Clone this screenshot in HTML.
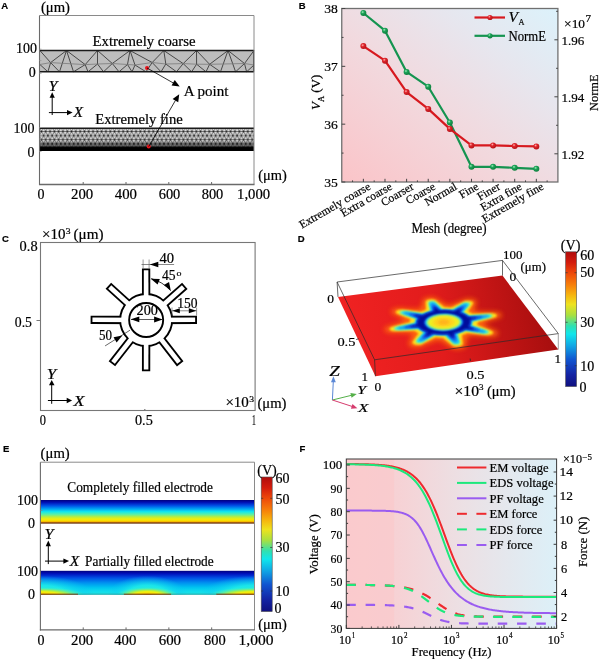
<!DOCTYPE html>
<html><head><meta charset="utf-8"><title>Figure</title>
<style>html,body{margin:0;padding:0;background:#fff;}body{width:599px;height:660px;overflow:hidden;font-family:"Liberation Serif", serif;}svg{display:block;will-change:transform;}text{stroke:#000;stroke-width:0.2px;}</style>
</head><body>
<svg width="599" height="660" viewBox="0 0 599 660" font-family='"Liberation Serif", serif'>
<defs>
<pattern id="finemesh" x="0.6" y="127.4" width="4.3" height="8.2" patternUnits="userSpaceOnUse">
 <rect width="4.3" height="8.2" fill="#dadada"/>
 <path d="M0 0L4.3 0M0 4.1L4.3 4.1M0 8.2L4.3 8.2M0 0L2.15 4.1L4.3 0M0 8.2L2.15 4.1L4.3 8.2" stroke="#3a3a3a" stroke-width="0.55" fill="none"/>
 <circle cx="0" cy="0" r="0.8" fill="#202020"/><circle cx="4.3" cy="0" r="0.8" fill="#202020"/>
 <circle cx="2.15" cy="4.1" r="0.8" fill="#202020"/>
 <circle cx="0" cy="8.2" r="0.8" fill="#202020"/><circle cx="4.3" cy="8.2" r="0.8" fill="#202020"/>
</pattern>
<linearGradient id="finedark" x1="0" y1="0" x2="0" y2="1">
 <stop offset="0" stop-color="#000" stop-opacity="0"/>
 <stop offset="0.57" stop-color="#000" stop-opacity="0.05"/>
 <stop offset="0.62" stop-color="#000" stop-opacity="0.3"/>
 <stop offset="0.78" stop-color="#000" stop-opacity="0.5"/>
 <stop offset="0.84" stop-color="#000" stop-opacity="0.88"/>
 <stop offset="0.87" stop-color="#000" stop-opacity="1"/><stop offset="1" stop-color="#000" stop-opacity="1"/>
</linearGradient>

<linearGradient id="bgB" x1="0" y1="1" x2="1" y2="0">
 <stop offset="0" stop-color="#fbc4c8"/>
 <stop offset="0.45" stop-color="#f1dadf"/>
 <stop offset="0.72" stop-color="#e7e6ee"/>
 <stop offset="1" stop-color="#dcf2fb"/>
</linearGradient>
<radialGradient id="ballR" cx="0.38" cy="0.35" r="0.7">
 <stop offset="0" stop-color="#ffb0b0"/>
 <stop offset="0.35" stop-color="#e0262c"/>
 <stop offset="1" stop-color="#b01016"/>
</radialGradient>
<radialGradient id="ballG" cx="0.38" cy="0.35" r="0.7">
 <stop offset="0" stop-color="#a8f0c0"/>
 <stop offset="0.35" stop-color="#1ea55a"/>
 <stop offset="1" stop-color="#0c7a3a"/>
</radialGradient>

<clipPath id="clipD"><polygon points="338,296.9 502.5,275.6 558.3,349.5 375.4,376.2" fill="#000" /></clipPath>
<filter id="bl1" x="-20%" y="-20%" width="140%" height="140%"><feGaussianBlur stdDeviation="0.9"/></filter>
<filter id="bl15" x="-20%" y="-20%" width="140%" height="140%"><feGaussianBlur stdDeviation="1.3"/></filter>
<filter id="bl2" x="-20%" y="-20%" width="140%" height="140%"><feGaussianBlur stdDeviation="1.6"/></filter>
<filter id="bl3" x="-30%" y="-30%" width="160%" height="160%"><feGaussianBlur stdDeviation="2.6"/></filter>
<linearGradient id="redD" gradientUnits="userSpaceOnUse" x1="345" y1="330" x2="545" y2="290">
 <stop offset="0" stop-color="#f02222"/>
 <stop offset="0.45" stop-color="#e21c1c"/>
 <stop offset="1" stop-color="#a60e0e"/>
</linearGradient>
<linearGradient id="redFront" gradientUnits="userSpaceOnUse" x1="375" y1="360" x2="558" y2="340">
 <stop offset="0" stop-color="#e01e1e"/>
 <stop offset="1" stop-color="#a81212"/>
</linearGradient>
<linearGradient id="cbar" x1="0" y1="0" x2="0" y2="1">
 <stop offset="0" stop-color="#b00c0c"/>
 <stop offset="0.08" stop-color="#d41c0c"/>
 <stop offset="0.16" stop-color="#ee4a0a"/>
 <stop offset="0.25" stop-color="#f7820a"/>
 <stop offset="0.32" stop-color="#f6b40e"/>
 <stop offset="0.39" stop-color="#eee21e"/>
 <stop offset="0.47" stop-color="#a8e040"/>
 <stop offset="0.55" stop-color="#30e0b0"/>
 <stop offset="0.61" stop-color="#10e6ec"/>
 <stop offset="0.7" stop-color="#10a4e4"/>
 <stop offset="0.8" stop-color="#1054d0"/>
 <stop offset="0.91" stop-color="#1424a4"/>
 <stop offset="1" stop-color="#10107e"/>
</linearGradient>

<linearGradient id="bandE1" x1="0" y1="0" x2="0" y2="1">
 <stop offset="0" stop-color="#00007e"/>
 <stop offset="0.1" stop-color="#0010b4"/>
 <stop offset="0.24" stop-color="#0050e6"/>
 <stop offset="0.38" stop-color="#00a4f2"/>
 <stop offset="0.5" stop-color="#10e8ee"/>
 <stop offset="0.62" stop-color="#60f0a0"/>
 <stop offset="0.72" stop-color="#b8ec40"/>
 <stop offset="0.82" stop-color="#f4ee08"/>
 <stop offset="0.9" stop-color="#fad800"/>
 <stop offset="0.95" stop-color="#f09000"/>
 <stop offset="1" stop-color="#8a4a10"/>
</linearGradient>
<linearGradient id="bandE2" x1="0" y1="0" x2="0" y2="1">
 <stop offset="0" stop-color="#00007e"/>
 <stop offset="0.12" stop-color="#0010bc"/>
 <stop offset="0.3" stop-color="#0050e6"/>
 <stop offset="0.5" stop-color="#0090f0"/>
 <stop offset="0.7" stop-color="#00c4f0"/>
 <stop offset="0.85" stop-color="#10dcec"/>
 <stop offset="1" stop-color="#20e2e0"/>
</linearGradient>
<radialGradient id="glowE" cx="0.5" cy="0.5" r="0.5">
 <stop offset="0" stop-color="#30f0d0"/>
 <stop offset="0.5" stop-color="#20eee8" stop-opacity="0.85"/>
 <stop offset="0.8" stop-color="#10d0f0" stop-opacity="0.4"/>
 <stop offset="1" stop-color="#10c0f0" stop-opacity="0"/>
</radialGradient>
<radialGradient id="domeE" cx="0.5" cy="0.5" r="0.5">
 <stop offset="0" stop-color="#f8b800"/>
 <stop offset="0.2" stop-color="#f8e000"/>
 <stop offset="0.42" stop-color="#f0f010"/>
 <stop offset="0.6" stop-color="#b0f040" stop-opacity="0.9"/>
 <stop offset="0.82" stop-color="#60f0a0" stop-opacity="0.5"/>
 <stop offset="1" stop-color="#40f0c0" stop-opacity="0"/>
</radialGradient>
<clipPath id="clipE2"><rect x="40.4" y="570.8" width="214.1" height="23.9"/></clipPath>
<clipPath id="clipF"><rect x="346.3" y="459" width="210.3" height="169.4"/></clipPath>
<linearGradient id="bgF" x1="0" y1="0" x2="1" y2="0">
 <stop offset="0" stop-color="#f9cfd2"/>
 <stop offset="0.25" stop-color="#f6d2d5"/>
 <stop offset="0.55" stop-color="#ece0e4"/>
 <stop offset="1" stop-color="#dcf0f8"/>
</linearGradient>
</defs>
<rect width="599" height="660" fill="#fff"/>
<rect x="39.5" y="50.5" width="214.5" height="21.3" fill="#bdbdbd" />
<path d="M39.9 50.5L50.6 62.6M50.6 62.6L66.5 50.5M50.6 62.6L47.9 71.8M50.6 62.6L59.5 71.8M39.9 64.5L47.9 71.8M66.5 50.5L59.5 71.8M66.5 50.5L73.5 71.8M66.5 50.5L85.2 64.6M85.2 64.6L73.5 71.8M85.2 64.6L88 71.8M85.2 64.6L97.5 50.5M97.5 50.5L97.5 64M97.5 64L88 71.8M97.5 64L103.5 71.8M97.5 50.5L112.3 63.5M112.3 63.5L130 50.5M112.3 63.5L103.5 71.8M112.3 63.5L119 71.8M130 50.5L127.5 64.5M130 50.5L135 65M130 50.5L152.2 62.5M127.5 64.5L119 71.8M127.5 64.5L132 71.8M135 65L132 71.8M135 65L146 71.8M152.2 62.5L146 71.8M152.2 62.5L161 71.8M152.2 62.5L163.8 50.5M163.8 50.5L165.8 64M163.8 50.5L183.2 63.6M165.8 64L161 71.8M165.8 64L176.5 71.8M183.2 63.6L176.5 71.8M183.2 63.6L191.6 71.8M183.2 63.6L196.5 50.5M196.5 50.5L196.6 64.2M196.6 64.2L191.6 71.8M196.6 64.2L206 71.8M196.5 50.5L209.6 64.3M209.6 64.3L206 71.8M209.6 64.3L220.5 71.8M209.6 64.3L228 50.5M228 50.5L220.5 71.8M228 50.5L235.6 71.8M228 50.5L244.5 63.5M244.5 63.5L235.6 71.8M244.5 63.5L246.6 71.8M244.5 63.5L254 50.5M246.6 71.8L254 65" fill="none" stroke="#2a2a2a" stroke-width="0.8" />
<path d="M39.9 64.5L50.6 62.6L85.2 64.6L97.5 64L112.3 63.5L127.5 64.5L135 65L152.2 62.5L165.8 64L183.2 63.6L196.6 64.2L209.6 64.3L244.5 63.5L254 65" fill="none" stroke="#7a7a7a" stroke-width="0.8" />
<line x1="39.5" y1="50.5" x2="254" y2="50.5" stroke="#1a1a1a" stroke-width="1.6" />
<line x1="39.5" y1="71.8" x2="254" y2="71.8" stroke="#1a1a1a" stroke-width="1.6" />
<line x1="253.7" y1="50.5" x2="253.7" y2="71.8" stroke="#1a1a1a" stroke-width="1" />
<rect x="39.5" y="128.2" width="214.5" height="22.4" fill="url(#finemesh)" />
<rect x="39.5" y="128.2" width="214.5" height="22.4" fill="url(#finedark)" />
<line x1="39.5" y1="128.2" x2="254" y2="128.2" stroke="#1a1a1a" stroke-width="1.4" />
<line x1="39.5" y1="150.1" x2="254" y2="150.1" stroke="#000" stroke-width="1.6" />
<line x1="39.5" y1="15.5" x2="254" y2="15.5" stroke="#8a8a8a" stroke-width="1" />
<line x1="254" y1="15.5" x2="254" y2="184.5" stroke="#8a8a8a" stroke-width="1" />
<line x1="39.5" y1="15.5" x2="39.5" y2="185" stroke="#6a6a6a" stroke-width="1.1" />
<line x1="39" y1="184.5" x2="254.5" y2="184.5" stroke="#6a6a6a" stroke-width="1.3" />
<line x1="83.2" y1="184.5" x2="83.2" y2="182" stroke="#6a6a6a" stroke-width="1" />
<line x1="126" y1="184.5" x2="126" y2="182" stroke="#6a6a6a" stroke-width="1" />
<line x1="168.8" y1="184.5" x2="168.8" y2="182" stroke="#6a6a6a" stroke-width="1" />
<line x1="211.6" y1="184.5" x2="211.6" y2="182" stroke="#6a6a6a" stroke-width="1" />
<line x1="39.5" y1="49.2" x2="41.5" y2="49.2" stroke="#9a9a9a" stroke-width="0.8" />
<line x1="39.5" y1="60.5" x2="41.5" y2="60.5" stroke="#9a9a9a" stroke-width="0.8" />
<line x1="39.5" y1="73.3" x2="41.5" y2="73.3" stroke="#9a9a9a" stroke-width="0.8" />
<line x1="39.5" y1="127.5" x2="41.5" y2="127.5" stroke="#9a9a9a" stroke-width="0.8" />
<line x1="39.5" y1="139" x2="41.5" y2="139" stroke="#9a9a9a" stroke-width="0.8" />
<line x1="39.5" y1="151.5" x2="41.5" y2="151.5" stroke="#9a9a9a" stroke-width="0.8" />
<circle cx="147" cy="68" r="2" fill="#e8141c"/>
<circle cx="148.7" cy="146.6" r="2" fill="#e8141c"/>
<line x1="147" y1="68" x2="174" y2="83.4" stroke="#000" stroke-width="0.8" />
<polygon points="179.7,86.4 171.57,85.55 174.76,79.89" fill="#000" />
<line x1="148.7" y1="146.6" x2="175.5" y2="100.3" stroke="#000" stroke-width="0.8" />
<polygon points="179.2,94.2 178.24,102.32 172.62,99.05" fill="#000" />
<line x1="52.2" y1="115" x2="52.2" y2="96" stroke="#000" stroke-width="1" />
<polygon points="52.2,92.2 49.6,97.8 54.8,97.8" fill="#000" />
<line x1="48.9" y1="112.6" x2="68" y2="112.6" stroke="#000" stroke-width="1" />
<polygon points="72.6,112.6 67,110 67,115.2" fill="#000" />
<text x="48.4" y="91.3" font-size="14" textLength="9" lengthAdjust="spacingAndGlyphs" font-style="italic">Y</text>
<text x="73.5" y="116.5" font-size="14" textLength="9.5" lengthAdjust="spacingAndGlyphs" font-style="italic">X</text>
<text x="40.9" y="11.5" font-size="14" textLength="29.1" lengthAdjust="spacingAndGlyphs">(μm)</text>
<text x="37" y="53.3" font-size="14" text-anchor="end" textLength="21" lengthAdjust="spacingAndGlyphs">100</text>
<text x="35.7" y="76.8" font-size="14" text-anchor="end" textLength="7" lengthAdjust="spacingAndGlyphs">0</text>
<text x="34.5" y="132.8" font-size="14" text-anchor="end" textLength="21" lengthAdjust="spacingAndGlyphs">100</text>
<text x="34.5" y="156.6" font-size="14" text-anchor="end" textLength="7" lengthAdjust="spacingAndGlyphs">0</text>
<text x="92.6" y="46" font-size="14" textLength="103" lengthAdjust="spacingAndGlyphs">Extremely coarse</text>
<text x="183.7" y="95.9" font-size="14" textLength="44.8" lengthAdjust="spacingAndGlyphs">A point</text>
<text x="95.2" y="124.3" font-size="14" textLength="87.6" lengthAdjust="spacingAndGlyphs">Extremely fine</text>
<text x="258.2" y="180.4" font-size="14" textLength="28.6" lengthAdjust="spacingAndGlyphs">(μm)</text>
<text x="37.6" y="199.3" font-size="14" textLength="7" lengthAdjust="spacingAndGlyphs">0</text>
<text x="71" y="199.3" font-size="14" textLength="22.2" lengthAdjust="spacingAndGlyphs">200</text>
<text x="114.8" y="199.3" font-size="14" textLength="22.2" lengthAdjust="spacingAndGlyphs">400</text>
<text x="158.7" y="199.3" font-size="14" textLength="21.6" lengthAdjust="spacingAndGlyphs">600</text>
<text x="201.7" y="199.3" font-size="14" textLength="21.6" lengthAdjust="spacingAndGlyphs">800</text>
<text x="237.1" y="199.3" font-size="14" textLength="33" lengthAdjust="spacingAndGlyphs">1,000</text>
<rect x="341.75" y="8.5" width="216.15" height="173.5" fill="url(#bgB)" />
<polyline points="363.37,13 384.99,30.7 406.61,71.9 428.23,86.7 449.85,122.5 471.47,166.8 493.09,166.8 514.71,167.8 536.33,168.8" fill="none" stroke="#159450" stroke-width="2.2" stroke-linejoin="round"/>
<polyline points="363.37,46.1 384.99,60.7 406.61,92.1 428.23,108.9 449.85,128.9 471.47,145.4 493.09,145.4 514.71,146 536.33,146.4" fill="none" stroke="#d7191f" stroke-width="2.2" stroke-linejoin="round"/>
<circle cx="363.37" cy="46.1" r="3" fill="url(#ballR)"/>
<circle cx="384.99" cy="60.7" r="3" fill="url(#ballR)"/>
<circle cx="406.61" cy="92.1" r="3" fill="url(#ballR)"/>
<circle cx="428.23" cy="108.9" r="3" fill="url(#ballR)"/>
<circle cx="449.85" cy="128.9" r="3" fill="url(#ballR)"/>
<circle cx="471.47" cy="145.4" r="3" fill="url(#ballR)"/>
<circle cx="493.09" cy="145.4" r="3" fill="url(#ballR)"/>
<circle cx="514.71" cy="146" r="3" fill="url(#ballR)"/>
<circle cx="536.33" cy="146.4" r="3" fill="url(#ballR)"/>
<circle cx="363.37" cy="13" r="3" fill="url(#ballG)"/>
<circle cx="384.99" cy="30.7" r="3" fill="url(#ballG)"/>
<circle cx="406.61" cy="71.9" r="3" fill="url(#ballG)"/>
<circle cx="428.23" cy="86.7" r="3" fill="url(#ballG)"/>
<circle cx="449.85" cy="122.5" r="3" fill="url(#ballG)"/>
<circle cx="471.47" cy="166.8" r="3" fill="url(#ballG)"/>
<circle cx="493.09" cy="166.8" r="3" fill="url(#ballG)"/>
<circle cx="514.71" cy="167.8" r="3" fill="url(#ballG)"/>
<circle cx="536.33" cy="168.8" r="3" fill="url(#ballG)"/>
<line x1="474.5" y1="17.5" x2="505" y2="17.5" stroke="#d7191f" stroke-width="2.2" />
<circle cx="490" cy="17.5" r="2.6" fill="url(#ballR)"/>
<line x1="474.5" y1="35.8" x2="505" y2="35.8" stroke="#159450" stroke-width="2.2" />
<circle cx="490" cy="35.8" r="2.6" fill="url(#ballG)"/>
<text x="508.5" y="22" font-size="14" textLength="9.5" lengthAdjust="spacingAndGlyphs" font-style="italic">V</text>
<text x="518.5" y="25" font-size="9" textLength="6" lengthAdjust="spacingAndGlyphs">A</text>
<text x="508.5" y="40.5" font-size="14" textLength="37.5" lengthAdjust="spacingAndGlyphs">NormE</text>
<rect x="341.75" y="8.5" width="216.15" height="173.5" fill="none" stroke="#707070" stroke-width="1.3" />
<line x1="341.75" y1="182" x2="345.25" y2="182" stroke="#444" stroke-width="1" />
<line x1="341.75" y1="124.17" x2="345.25" y2="124.17" stroke="#444" stroke-width="1" />
<line x1="341.75" y1="66.33" x2="345.25" y2="66.33" stroke="#444" stroke-width="1" />
<line x1="341.75" y1="8.5" x2="345.25" y2="8.5" stroke="#444" stroke-width="1" />
<line x1="341.75" y1="153.08" x2="343.55" y2="153.08" stroke="#444" stroke-width="1" />
<line x1="341.75" y1="95.25" x2="343.55" y2="95.25" stroke="#444" stroke-width="1" />
<line x1="341.75" y1="37.42" x2="343.55" y2="37.42" stroke="#444" stroke-width="1" />
<text x="337.9" y="186.9" font-size="13.2" text-anchor="end" textLength="13.6" lengthAdjust="spacingAndGlyphs">35</text>
<text x="337.9" y="129.07" font-size="13.2" text-anchor="end" textLength="13.6" lengthAdjust="spacingAndGlyphs">36</text>
<text x="337.9" y="71.23" font-size="13.2" text-anchor="end" textLength="13.6" lengthAdjust="spacingAndGlyphs">37</text>
<text x="337.9" y="13.4" font-size="13.2" text-anchor="end" textLength="13.6" lengthAdjust="spacingAndGlyphs">38</text>
<line x1="554.4" y1="153.8" x2="557.9" y2="153.8" stroke="#444" stroke-width="1" />
<text x="561.4" y="158.8" font-size="13" textLength="22.8" lengthAdjust="spacingAndGlyphs">1.92</text>
<line x1="554.4" y1="96.8" x2="557.9" y2="96.8" stroke="#444" stroke-width="1" />
<text x="561.4" y="101.8" font-size="13" textLength="22.8" lengthAdjust="spacingAndGlyphs">1.94</text>
<line x1="554.4" y1="39.8" x2="557.9" y2="39.8" stroke="#444" stroke-width="1" />
<text x="561.4" y="44.8" font-size="13" textLength="22.8" lengthAdjust="spacingAndGlyphs">1.96</text>
<line x1="556.1" y1="125.3" x2="557.9" y2="125.3" stroke="#444" stroke-width="1" />
<line x1="556.1" y1="68.3" x2="557.9" y2="68.3" stroke="#444" stroke-width="1" />
<line x1="556.1" y1="11.3" x2="557.9" y2="11.3" stroke="#444" stroke-width="1" />
<text x="564.1" y="28.2" font-size="12.6" textLength="20.9" lengthAdjust="spacingAndGlyphs">×10</text>
<text x="585.6" y="21.5" font-size="9.5" textLength="5.5" lengthAdjust="spacingAndGlyphs">7</text>
<line x1="363.37" y1="182" x2="363.37" y2="178.8" stroke="#444" stroke-width="1" />
<line x1="384.99" y1="182" x2="384.99" y2="178.8" stroke="#444" stroke-width="1" />
<line x1="406.61" y1="182" x2="406.61" y2="178.8" stroke="#444" stroke-width="1" />
<line x1="428.23" y1="182" x2="428.23" y2="178.8" stroke="#444" stroke-width="1" />
<line x1="449.85" y1="182" x2="449.85" y2="178.8" stroke="#444" stroke-width="1" />
<line x1="471.47" y1="182" x2="471.47" y2="178.8" stroke="#444" stroke-width="1" />
<line x1="493.09" y1="182" x2="493.09" y2="178.8" stroke="#444" stroke-width="1" />
<line x1="514.71" y1="182" x2="514.71" y2="178.8" stroke="#444" stroke-width="1" />
<line x1="536.33" y1="182" x2="536.33" y2="178.8" stroke="#444" stroke-width="1" />
<line x1="352.56" y1="182" x2="352.56" y2="180.4" stroke="#444" stroke-width="1" />
<line x1="374.18" y1="182" x2="374.18" y2="180.4" stroke="#444" stroke-width="1" />
<line x1="395.8" y1="182" x2="395.8" y2="180.4" stroke="#444" stroke-width="1" />
<line x1="417.42" y1="182" x2="417.42" y2="180.4" stroke="#444" stroke-width="1" />
<line x1="439.04" y1="182" x2="439.04" y2="180.4" stroke="#444" stroke-width="1" />
<line x1="460.66" y1="182" x2="460.66" y2="180.4" stroke="#444" stroke-width="1" />
<line x1="482.28" y1="182" x2="482.28" y2="180.4" stroke="#444" stroke-width="1" />
<line x1="503.9" y1="182" x2="503.9" y2="180.4" stroke="#444" stroke-width="1" />
<line x1="525.52" y1="182" x2="525.52" y2="180.4" stroke="#444" stroke-width="1" />
<line x1="547.14" y1="182" x2="547.14" y2="180.4" stroke="#444" stroke-width="1" />
<text x="371.37" y="188.6" font-size="11.5" text-anchor="end" transform="rotate(-30 371.37 188.6)">Extremely coarse</text>
<text x="392.99" y="188.6" font-size="11.5" text-anchor="end" transform="rotate(-30 392.99 188.6)">Extra coarse</text>
<text x="414.61" y="188.6" font-size="11.5" text-anchor="end" transform="rotate(-30 414.61 188.6)">Coarser</text>
<text x="436.23" y="188.6" font-size="11.5" text-anchor="end" transform="rotate(-30 436.23 188.6)">Coarse</text>
<text x="457.85" y="188.6" font-size="11.5" text-anchor="end" transform="rotate(-30 457.85 188.6)">Normal</text>
<text x="479.47" y="188.6" font-size="11.5" text-anchor="end" transform="rotate(-30 479.47 188.6)">Fine</text>
<text x="501.09" y="188.6" font-size="11.5" text-anchor="end" transform="rotate(-30 501.09 188.6)">Finer</text>
<text x="522.71" y="188.6" font-size="11.5" text-anchor="end" transform="rotate(-30 522.71 188.6)">Extra fine</text>
<text x="544.33" y="188.6" font-size="11.5" text-anchor="end" transform="rotate(-30 544.33 188.6)">Extremely fine</text>
<text x="411.5" y="233.3" font-size="14" textLength="75" lengthAdjust="spacingAndGlyphs">Mesh (degree)</text>
<text transform="translate(320 110) rotate(-90)" font-size="13"><tspan font-style="italic">V</tspan><tspan font-size="8.5" dy="4">A</tspan><tspan dy="-4"> (V)</tspan></text>
<text transform="translate(597.5 110.9) rotate(-90)" font-size="12.4" textLength="36.4" lengthAdjust="spacingAndGlyphs">NormE</text>
<rect x="40.5" y="242.5" width="214.6" height="168" fill="none" stroke="#777" stroke-width="1.1" />
<line x1="36.5" y1="320.5" x2="40.5" y2="320.5" stroke="#777" stroke-width="1" />
<line x1="144.8" y1="410.5" x2="144.8" y2="409" stroke="#777" stroke-width="1.2" />
<g fill="#000" stroke="#000" stroke-width="3.7" stroke-linejoin="miter"><circle cx="146.15" cy="320" r="25.1"/><rect x="0" y="-2.3" width="49" height="4.6" transform="translate(146.15 320) rotate(-0.23)"/><rect x="0" y="-2.3" width="49.76" height="4.6" transform="translate(146.15 320) rotate(-41.43)"/><rect x="0" y="-2.3" width="49.65" height="4.6" transform="translate(146.15 320) rotate(-90.06)"/><rect x="0" y="-2.3" width="49.16" height="4.6" transform="translate(146.15 320) rotate(-137.82)"/><rect x="0" y="-2.3" width="53.7" height="4.6" transform="translate(146.15 320) rotate(-179.79)"/><rect x="0" y="-2.3" width="53.75" height="4.6" transform="translate(146.15 320) rotate(128.02)"/><rect x="0" y="-2.3" width="49.45" height="4.6" transform="translate(146.15 320) rotate(90.06)"/><rect x="0" y="-2.3" width="53.71" height="4.6" transform="translate(146.15 320) rotate(52.2)"/></g>
<g fill="#fff" stroke="none"><circle cx="146.15" cy="320" r="25.1"/><rect x="0" y="-2.3" width="49" height="4.6" transform="translate(146.15 320) rotate(-0.23)"/><rect x="0" y="-2.3" width="49.76" height="4.6" transform="translate(146.15 320) rotate(-41.43)"/><rect x="0" y="-2.3" width="49.65" height="4.6" transform="translate(146.15 320) rotate(-90.06)"/><rect x="0" y="-2.3" width="49.16" height="4.6" transform="translate(146.15 320) rotate(-137.82)"/><rect x="0" y="-2.3" width="53.7" height="4.6" transform="translate(146.15 320) rotate(-179.79)"/><rect x="0" y="-2.3" width="53.75" height="4.6" transform="translate(146.15 320) rotate(128.02)"/><rect x="0" y="-2.3" width="49.45" height="4.6" transform="translate(146.15 320) rotate(90.06)"/><rect x="0" y="-2.3" width="53.71" height="4.6" transform="translate(146.15 320) rotate(52.2)"/></g>
<circle cx="146.15" cy="320" r="17" fill="#fff" stroke="#000" stroke-width="1.9"/>
<line x1="143.1" y1="259.5" x2="143.1" y2="268.5" stroke="#555" stroke-width="0.6" />
<line x1="149.1" y1="259.5" x2="149.1" y2="268.5" stroke="#555" stroke-width="0.6" />
<line x1="141.5" y1="264.5" x2="174.1" y2="264.5" stroke="#555" stroke-width="0.7" />
<polygon points="149.8,264.5 158.3,261.75 158.3,267.25" fill="#000" />
<text x="159.5" y="262.5" font-size="14" textLength="14.6" lengthAdjust="spacingAndGlyphs">40</text>
<path d="M151.2 278.6 A 40 40 0 0 1 170.6 290.6" fill="none" stroke="#000" stroke-width="0.8" />
<polygon points="150.8,278.7 159.81,278.98 157.63,284.58" fill="#000" />
<polygon points="170.8,290.8 163.9,285 169.07,281.95" fill="#000" />
<text x="162" y="280" font-size="14" textLength="13.6" lengthAdjust="spacingAndGlyphs">45</text>
<text x="176.4" y="276.3" font-size="8" textLength="5" lengthAdjust="spacingAndGlyphs">o</text>
<line x1="172" y1="307.5" x2="172" y2="315.5" stroke="#555" stroke-width="0.6" />
<line x1="196.6" y1="307.5" x2="196.6" y2="315.5" stroke="#555" stroke-width="0.6" />
<line x1="172" y1="310.8" x2="196.6" y2="310.8" stroke="#555" stroke-width="0.7" />
<polygon points="172.3,310.8 179.8,308.3 179.8,313.3" fill="#000" />
<polygon points="196.3,310.8 188.8,313.3 188.8,308.3" fill="#000" />
<text x="177.2" y="307.8" font-size="14" textLength="20.3" lengthAdjust="spacingAndGlyphs">150</text>
<line x1="131" y1="319.5" x2="162.5" y2="319.5" stroke="#333" stroke-width="0.8" />
<polygon points="130.8,319.3 139.3,316.4 139.3,322.2" fill="#000" />
<polygon points="162.6,319.5 154.1,322.4 154.1,316.6" fill="#000" />
<text x="136.5" y="315.4" font-size="14" textLength="21.4" lengthAdjust="spacingAndGlyphs">200</text>
<line x1="105.1" y1="345.9" x2="130" y2="330.2" stroke="#000" stroke-width="0.6" />
<polygon points="122.4,335.6 116.63,342.53 113.56,337.37" fill="#000" />
<text x="99.1" y="339.9" font-size="14" textLength="13" lengthAdjust="spacingAndGlyphs">50</text>
<line x1="51.7" y1="403.8" x2="51.7" y2="384" stroke="#000" stroke-width="1" />
<polygon points="51.7,379.9 49,385.2 54.5,385.2" fill="#000" />
<line x1="47.9" y1="400.5" x2="67" y2="400.5" stroke="#000" stroke-width="1" />
<polygon points="72.1,400.5 66.7,397.8 66.7,403.2" fill="#000" />
<text x="46.8" y="378.8" font-size="14" textLength="9.5" lengthAdjust="spacingAndGlyphs" font-style="italic">Y</text>
<text x="73.6" y="405.5" font-size="14" textLength="11" lengthAdjust="spacingAndGlyphs" font-style="italic">X</text>
<text x="42" y="238.6" font-size="14" textLength="23.5" lengthAdjust="spacingAndGlyphs">×10</text>
<text x="65.8" y="233.5" font-size="9" textLength="4.8" lengthAdjust="spacingAndGlyphs">3</text>
<text x="73.5" y="238.6" font-size="14" textLength="30" lengthAdjust="spacingAndGlyphs">(μm)</text>
<text x="37.6" y="251" font-size="14" text-anchor="end" textLength="18" lengthAdjust="spacingAndGlyphs">0.8</text>
<text x="32" y="326.8" font-size="14" text-anchor="end" textLength="17.2" lengthAdjust="spacingAndGlyphs">0.5</text>
<text x="39.8" y="424.5" font-size="14" textLength="6.2" lengthAdjust="spacingAndGlyphs">0</text>
<text x="135" y="424.5" font-size="14" textLength="17.8" lengthAdjust="spacingAndGlyphs">0.5</text>
<text x="252.1" y="425" font-size="14" textLength="3.8" lengthAdjust="spacingAndGlyphs">1</text>
<text x="225.4" y="407.4" font-size="14" textLength="23.5" lengthAdjust="spacingAndGlyphs">×10</text>
<text x="249.2" y="402.3" font-size="9" textLength="4.8" lengthAdjust="spacingAndGlyphs">3</text>
<text x="257.5" y="408" font-size="14" textLength="29" lengthAdjust="spacingAndGlyphs">(μm)</text>
<polygon points="338,296.9 502.5,275.6 558.3,349.5 375.4,376.2" fill="url(#redD)" />
<g clip-path="url(#clipD)">
<path d="M474.05 309.92L474.43 310.1L474.81 310.29L475.18 310.48L475.55 310.68L475.91 310.87L476.26 311.07L476.61 311.27L476.95 311.47L491.31 311.74L495.64 311.66L499.49 312.55L501.81 314.16L501.99 316.09L499.96 317.8L496.25 318.84L484.55 322.74L484.52 323.01L484.48 323.27L484.43 323.53L484.37 323.79L484.31 324.05L484.24 324.32L484.16 324.58L484.07 324.84L493.95 329.71L497.22 331.08L498.54 333.01L497.55 334.99L494.48 336.5L490.17 337.11L485.78 336.66L471.04 335.71L470.59 335.9L470.13 336.08L469.67 336.26L469.21 336.44L468.73 336.61L468.26 336.78L467.77 336.95L467.29 337.11L466.31 343.98L466.39 346.08L464.17 347.95L460.23 349.09L455.64 349.17L451.65 348.18L449.33 346.39L440.7 340.86L440.1 340.84L439.5 340.83L438.9 340.81L438.3 340.79L437.7 340.76L437.1 340.73L436.51 340.69L435.91 340.65L424.34 345.34L421.07 346.89L416.63 347.51L412.23 347.05L409.06 345.62L407.98 343.61L409.25 341.58L412.21 334.82L411.83 334.62L411.46 334.42L411.1 334.21L410.74 334L410.39 333.79L410.04 333.58L409.71 333.37L409.38 333.15L394.6 332.87L390.11 332.95L386.31 332.01L384.22 330.3L384.39 328.3L386.75 326.53L390.67 325.47L402.96 321.53L403.02 321.27L403.09 321.01L403.17 320.75L403.26 320.49L403.35 320.23L403.46 319.98L403.57 319.72L403.69 319.46L394.62 314.74L391.63 313.44L390.65 311.62L391.91 309.77L395.06 308.38L399.27 307.82L403.41 308.24L417.45 309.1L417.9 308.93L418.35 308.76L418.8 308.6L419.26 308.44L419.72 308.28L420.19 308.12L420.67 307.97L421.15 307.82L422.5 301.65L422.55 299.81L424.72 298.19L428.42 297.22L432.67 297.14L436.33 297.99L438.45 299.53L446.54 304.42L447.11 304.43L447.68 304.44L448.25 304.46L448.82 304.48L449.39 304.5L449.95 304.53L450.52 304.56L451.08 304.6L461.8 300.45L464.77 299.1L468.86 298.55L472.99 298.96L476.07 300.2L477.28 301.96L476.27 303.76Z" fill="#ff6a10" filter="url(#bl3)" opacity="0.9"/>
<path d="M467.99 311.43L468.59 311.7L469.18 311.98L469.76 312.27L470.31 312.56L470.85 312.86L471.38 313.16L471.88 313.48L472.36 313.79L489.57 313.23L492.5 313.18L495.09 313.78L496.65 314.87L496.76 316.17L495.38 317.32L492.88 318.02L477.77 321.93L477.76 322.33L477.72 322.72L477.66 323.12L477.58 323.52L477.47 323.91L477.34 324.31L477.19 324.7L477.02 325.1L490.22 330.26L492.42 331.18L493.3 332.48L492.62 333.82L490.56 334.83L487.66 335.24L484.71 334.93L467.59 332.9L466.94 333.19L466.27 333.47L465.58 333.74L464.88 334.01L464.16 334.27L463.43 334.52L462.68 334.76L461.92 335L462.79 343.15L462.83 344.56L461.34 345.82L458.69 346.58L455.61 346.63L452.93 345.97L451.37 344.77L442.85 337.67L441.94 337.67L441.03 337.66L440.13 337.64L439.22 337.61L438.32 337.56L437.42 337.51L436.53 337.44L435.64 337.37L423.29 343.59L421.09 344.63L418.11 345.05L415.15 344.73L413.02 343.78L412.28 342.43L413.13 341.06L418.62 333.2L418.01 332.91L417.43 332.61L416.86 332.31L416.31 332L415.78 331.68L415.27 331.36L414.79 331.03L414.32 330.69L396.61 331.28L393.6 331.34L391.04 330.7L389.62 329.56L389.72 328.21L391.31 327.02L393.95 326.3L409.63 322.35L409.68 321.95L409.76 321.56L409.86 321.16L409.98 320.77L410.13 320.37L410.3 319.98L410.49 319.59L410.7 319.21L398.33 314.21L396.31 313.34L395.64 312.11L396.48 310.86L398.6 309.92L401.44 309.55L404.24 309.83L420.57 311.72L421.22 311.45L421.89 311.19L422.57 310.93L423.26 310.68L423.97 310.44L424.69 310.21L425.42 309.98L426.17 309.76L425.76 302.38L425.79 301.14L427.25 300.04L429.75 299.38L432.62 299.33L435.09 299.9L436.52 300.95L444.51 307.3L445.38 307.3L446.25 307.31L447.12 307.33L447.99 307.36L448.85 307.4L449.71 307.45L450.56 307.5L451.41 307.57L462.88 301.98L464.89 301.07L467.65 300.7L470.44 300.97L472.52 301.81L473.33 303L472.64 304.22Z" fill="#ffe41a" filter="url(#bl15)"/>
<path d="M463.04 312.51L463.91 312.86L464.74 313.23L465.54 313.61L466.3 314L467.02 314.41L467.71 314.84L468.35 315.28L468.95 315.72L487.59 314.4L489.51 314.37L491.21 314.76L492.24 315.48L492.3 316.33L491.39 317.09L489.75 317.54L472.52 321.16L472.57 321.69L472.56 322.23L472.51 322.77L472.4 323.31L472.24 323.84L472.03 324.38L471.78 324.91L471.47 325.44L486.88 330.49L488.32 331.09L488.89 331.95L488.44 332.82L487.08 333.48L485.18 333.75L483.25 333.55L465.16 330.62L464.33 331.03L463.45 331.43L462.54 331.81L461.6 332.17L460.62 332.52L459.61 332.84L458.57 333.15L457.51 333.44L460.08 342.21L460.1 343.14L459.12 343.96L457.39 344.45L455.37 344.49L453.62 344.06L452.6 343.27L444.83 335.22L443.6 335.25L442.37 335.25L441.14 335.24L439.92 335.2L438.7 335.14L437.49 335.05L436.3 334.94L435.12 334.81L422.95 342.03L421.52 342.7L419.57 342.98L417.63 342.77L416.23 342.15L415.74 341.27L416.3 340.37L423.79 332.05L422.92 331.68L422.09 331.29L421.3 330.89L420.54 330.47L419.83 330.04L419.17 329.6L418.54 329.14L417.97 328.68L398.8 330.06L396.83 330.09L395.15 329.68L394.22 328.93L394.28 328.04L395.31 327.26L397.04 326.79L414.81 323.12L414.81 322.58L414.86 322.05L414.97 321.51L415.12 320.98L415.32 320.44L415.57 319.92L415.87 319.39L416.22 318.87L401.62 314L400.29 313.42L399.84 312.62L400.39 311.8L401.78 311.18L403.65 310.93L405.49 311.11L422.78 313.87L423.62 313.48L424.5 313.1L425.4 312.75L426.34 312.4L427.3 312.08L428.29 311.77L429.31 311.48L430.35 311.21L428.27 303.21L428.28 302.39L429.24 301.67L430.88 301.23L432.77 301.2L434.4 301.58L435.34 302.27L442.62 309.56L443.8 309.53L444.99 309.52L446.17 309.53L447.34 309.57L448.52 309.63L449.68 309.71L450.83 309.81L451.97 309.93L463.29 303.37L464.6 302.77L466.42 302.52L468.26 302.7L469.62 303.26L470.15 304.04L469.69 304.84Z" fill="#22eef0" filter="url(#bl1)"/>
<path d="M461.51 312.46L462.62 312.87L463.67 313.31L464.67 313.77L465.61 314.25L466.49 314.76L467.31 315.29L468.07 315.84L468.76 316.4L485.57 315.25L486.85 315.22L487.99 315.49L488.67 315.97L488.71 316.54L488.1 317.04L487 317.35L471.53 320.63L471.64 321.29L471.68 321.95L471.63 322.61L471.51 323.27L471.3 323.93L471.02 324.58L470.66 325.24L470.23 325.88L484.03 330.46L484.99 330.87L485.37 331.43L485.07 332.01L484.16 332.45L482.9 332.63L481.61 332.5L465.32 329.91L464.34 330.43L463.29 330.93L462.19 331.41L461.03 331.85L459.83 332.28L458.57 332.67L457.27 333.03L455.93 333.37L458.13 341.26L458.15 341.87L457.49 342.42L456.34 342.74L455 342.77L453.83 342.48L453.15 341.96L446.08 334.74L444.57 334.81L443.05 334.84L441.54 334.83L440.04 334.79L438.54 334.71L437.07 334.59L435.61 334.44L434.17 334.25L423.16 340.7L422.2 341.15L420.91 341.33L419.62 341.2L418.69 340.78L418.36 340.2L418.73 339.61L425.36 332.1L424.25 331.67L423.2 331.21L422.2 330.72L421.27 330.21L420.41 329.68L419.61 329.13L418.88 328.56L418.22 327.97L400.98 329.17L399.66 329.19L398.55 328.92L397.92 328.42L397.96 327.83L398.65 327.31L399.8 327L415.76 323.65L415.7 322.99L415.73 322.33L415.83 321.67L416.01 321.01L416.26 320.36L416.6 319.71L417 319.07L417.49 318.44L404.38 314.02L403.5 313.64L403.19 313.1L403.56 312.55L404.48 312.14L405.73 311.97L406.96 312.1L422.59 314.55L423.58 314.05L424.62 313.58L425.72 313.13L426.87 312.7L428.06 312.3L429.29 311.93L430.57 311.59L431.87 311.28L430.06 304.06L430.07 303.52L430.71 303.03L431.81 302.74L433.07 302.72L434.16 302.97L434.79 303.43L441.42 309.99L442.87 309.93L444.33 309.91L445.78 309.91L447.23 309.95L448.67 310.03L450.1 310.14L451.51 310.28L452.9 310.45L463.16 304.55L464.04 304.15L465.26 303.98L466.49 304.1L467.4 304.48L467.75 305L467.44 305.54Z" fill="#1298f0" filter="url(#bl1)"/>
<path d="M460.09 312.48L461.41 312.93L462.65 313.42L463.82 313.95L464.91 314.5L465.93 315.09L466.85 315.71L467.69 316.35L468.43 317.02L480.2 316.39L481.03 316.38L481.76 316.55L482.2 316.86L482.22 317.22L481.82 317.55L481.12 317.74L470.51 320.19L470.69 320.95L470.78 321.71L470.75 322.47L470.61 323.23L470.37 323.99L470.02 324.75L469.56 325.5L468.99 326.23L478.34 329.57L478.95 329.83L479.19 330.19L478.99 330.56L478.41 330.84L477.6 330.96L476.77 330.87L465.31 329.25L464.23 329.87L463.05 330.46L461.8 331.02L460.47 331.54L459.07 332.02L457.61 332.47L456.09 332.87L454.51 333.23L455.61 338.73L455.62 339.12L455.2 339.47L454.46 339.68L453.6 339.69L452.85 339.51L452.42 339.18L447.12 334.26L445.38 334.36L443.64 334.42L441.9 334.42L440.16 334.37L438.44 334.28L436.74 334.13L435.06 333.93L433.43 333.69L425.46 338.05L424.85 338.34L424.02 338.45L423.2 338.37L422.6 338.1L422.39 337.73L422.62 337.35L426.83 332.08L425.5 331.6L424.25 331.09L423.08 330.53L422 329.95L421.01 329.33L420.11 328.69L419.3 328.02L418.6 327.33L406.58 327.98L405.74 328L405.02 327.82L404.61 327.5L404.63 327.12L405.07 326.79L405.81 326.59L416.75 324.09L416.63 323.33L416.61 322.57L416.7 321.81L416.89 321.05L417.2 320.29L417.6 319.55L418.12 318.81L418.73 318.1L409.84 314.87L409.27 314.63L409.08 314.28L409.31 313.93L409.9 313.66L410.7 313.55L411.5 313.63L422.55 315.17L423.65 314.58L424.83 314.02L426.08 313.49L427.4 313L428.78 312.54L430.22 312.12L431.71 311.75L433.24 311.41L432.36 306.34L432.37 305.98L432.78 305.67L433.49 305.48L434.3 305.47L435.01 305.63L435.41 305.93L440.4 310.44L442.08 310.35L443.76 310.3L445.45 310.29L447.12 310.34L448.78 310.43L450.43 310.56L452.05 310.74L453.63 310.97L461.11 306.95L461.68 306.69L462.47 306.58L463.26 306.66L463.84 306.9L464.07 307.24L463.87 307.59Z" fill="#0a3ee0" filter="url(#bl1)"/>
<path d="M458.88 312.49L460.39 312.97L461.8 313.51L463.13 314.08L464.36 314.7L465.48 315.36L466.49 316.06L467.39 316.79L468.16 317.55L475.77 317.29L476.28 317.28L476.72 317.38L476.99 317.57L477 317.8L476.76 317.99L476.32 318.11L469.64 319.82L469.91 320.65L470.05 321.5L470.04 322.35L469.9 323.2L469.62 324.05L469.2 324.9L468.64 325.72L467.95 326.54L473.74 328.8L474.11 328.96L474.25 329.18L474.13 329.4L473.78 329.57L473.28 329.64L472.78 329.59L465.32 328.69L464.16 329.4L462.88 330.07L461.5 330.7L460.02 331.29L458.45 331.82L456.8 332.31L455.08 332.74L453.3 333.11L453.66 336.66L453.67 336.9L453.41 337.11L452.96 337.23L452.44 337.24L451.98 337.13L451.72 336.93L448.02 333.85L446.09 334L444.14 334.08L442.19 334.09L440.25 334.04L438.33 333.93L436.44 333.76L434.59 333.52L432.79 333.22L427.43 335.92L427.06 336.09L426.55 336.16L426.05 336.11L425.68 335.95L425.55 335.72L425.69 335.49L428.07 332.07L426.55 331.56L425.12 331L423.8 330.39L422.58 329.74L421.48 329.05L420.5 328.33L419.64 327.57L418.91 326.79L411.17 327.06L410.66 327.07L410.22 326.96L409.97 326.77L409.98 326.54L410.25 326.33L410.7 326.21L417.59 324.48L417.39 323.63L417.32 322.78L417.39 321.93L417.6 321.08L417.95 320.23L418.43 319.4L419.04 318.59L419.78 317.8L414.27 315.61L413.92 315.46L413.8 315.25L413.94 315.03L414.3 314.87L414.79 314.8L415.28 314.85L422.51 315.71L423.69 315.03L424.98 314.39L426.36 313.79L427.83 313.24L429.37 312.73L430.99 312.27L432.68 311.87L434.42 311.51L434.16 308.23L434.16 308.01L434.42 307.82L434.85 307.7L435.35 307.69L435.78 307.79L436.03 307.98L439.53 310.82L441.4 310.69L443.28 310.62L445.16 310.6L447.03 310.64L448.89 310.75L450.72 310.91L452.52 311.13L454.27 311.41L459.33 308.9L459.68 308.74L460.16 308.68L460.65 308.73L461.01 308.87L461.14 309.08L461.02 309.3Z" fill="#000c9c" filter="url(#bl1)"/>
<path d="M462.51 319.56L462.94 320.38L463.19 321.22L463.25 322.07L463.12 322.93L462.8 323.78L462.3 324.61L461.62 325.43L460.76 326.21L459.74 326.96L458.55 327.66L457.22 328.31L455.76 328.9L454.18 329.42L452.49 329.88L450.71 330.26L448.87 330.56L446.97 330.78L445.04 330.91L443.09 330.96L441.16 330.93L439.24 330.8L437.38 330.6L435.57 330.31L433.85 329.94L432.22 329.49L430.71 328.98L429.33 328.4L428.09 327.76L427 327.07L426.08 326.33L425.33 325.55L424.76 324.74L424.37 323.91L424.17 323.06L424.16 322.2L424.34 321.35L424.7 320.51L425.25 319.68L425.97 318.88L426.86 318.12L427.9 317.39L429.1 316.71L430.43 316.08L431.89 315.52L433.46 315.01L435.12 314.58L436.86 314.21L438.67 313.93L440.52 313.72L442.4 313.59L444.3 313.54L446.18 313.58L448.05 313.69L449.87 313.89L451.64 314.16L453.33 314.52L454.94 314.94L456.44 315.43L457.82 315.99L459.06 316.61L460.17 317.28L461.11 318L461.9 318.76Z" fill="#0a44e2" filter="url(#bl1)"/>
<path d="M461.3 319.72L461.71 320.49L461.94 321.28L461.99 322.08L461.87 322.88L461.57 323.67L461.1 324.45L460.46 325.21L459.66 325.95L458.7 326.65L457.59 327.3L456.35 327.91L454.98 328.46L453.5 328.95L451.92 329.37L450.26 329.73L448.53 330.01L446.76 330.22L444.95 330.34L443.13 330.39L441.32 330.35L439.53 330.24L437.79 330.05L436.1 329.78L434.49 329.43L432.97 329.02L431.55 328.54L430.26 327.99L429.1 327.4L428.08 326.75L427.22 326.06L426.51 325.33L425.98 324.57L425.61 323.79L425.43 323L425.42 322.2L425.58 321.4L425.92 320.61L426.43 319.84L427.1 319.09L427.93 318.37L428.91 317.69L430.03 317.06L431.28 316.47L432.64 315.94L434.11 315.46L435.66 315.06L437.3 314.72L438.99 314.45L440.72 314.25L442.48 314.13L444.26 314.09L446.03 314.12L447.77 314.23L449.48 314.41L451.14 314.67L452.72 315L454.22 315.4L455.63 315.86L456.92 316.38L458.08 316.96L459.12 317.59L460 318.27L460.73 318.98Z" fill="#22eaf2" filter="url(#bl1)"/>
<path d="M459.41 319.98L459.77 320.67L459.97 321.37L460.02 322.08L459.91 322.8L459.64 323.51L459.22 324.2L458.65 324.88L457.93 325.53L457.07 326.16L456.08 326.74L454.97 327.28L453.75 327.77L452.43 328.21L451.02 328.59L449.54 328.9L448 329.15L446.42 329.34L444.82 329.45L443.2 329.49L441.58 329.46L439.99 329.36L438.43 329.18L436.93 328.94L435.49 328.64L434.14 328.27L432.87 327.84L431.72 327.36L430.68 326.82L429.77 326.25L429 325.63L428.37 324.98L427.9 324.31L427.57 323.61L427.4 322.91L427.39 322.19L427.53 321.48L427.83 320.78L428.29 320.09L428.88 319.42L429.62 318.78L430.5 318.17L431.49 317.6L432.61 317.08L433.82 316.6L435.13 316.18L436.52 315.81L437.98 315.51L439.49 315.27L441.04 315.09L442.61 314.99L444.2 314.95L445.78 314.98L447.34 315.07L448.86 315.24L450.34 315.47L451.76 315.76L453.1 316.12L454.35 316.53L455.5 317L456.54 317.52L457.46 318.08L458.25 318.68L458.9 319.32Z" fill="#eef022" filter="url(#bl1)"/>
<path d="M454.42 320.67L454.66 321.14L454.79 321.62L454.82 322.1L454.74 322.59L454.55 323.07L454.26 323.54L453.87 324L453.38 324.45L452.79 324.87L452.12 325.27L451.36 325.63L450.53 325.97L449.63 326.26L448.67 326.52L447.67 326.73L446.62 326.9L445.55 327.02L444.46 327.1L443.36 327.13L442.26 327.11L441.18 327.04L440.12 326.92L439.1 326.76L438.13 326.55L437.2 326.3L436.34 326.01L435.56 325.69L434.85 325.32L434.23 324.93L433.7 324.51L433.27 324.07L432.94 323.61L432.72 323.14L432.6 322.66L432.59 322.18L432.68 321.69L432.88 321.21L433.19 320.74L433.59 320.28L434.09 319.84L434.69 319.43L435.37 319.04L436.12 318.68L436.95 318.35L437.85 318.07L438.8 317.82L439.79 317.61L440.82 317.44L441.88 317.32L442.96 317.25L444.04 317.22L445.12 317.24L446.19 317.31L447.23 317.42L448.24 317.58L449.21 317.78L450.12 318.02L450.98 318.31L451.76 318.63L452.47 318.98L453.1 319.37L453.63 319.78L454.07 320.21Z" fill="#ffd21e" filter="url(#bl2)"/>
<path d="M449.24 321.38L449.36 321.62L449.43 321.87L449.44 322.12L449.4 322.37L449.3 322.62L449.15 322.86L448.94 323.1L448.69 323.33L448.39 323.55L448.04 323.75L447.65 323.94L447.22 324.11L446.75 324.26L446.26 324.39L445.74 324.5L445.21 324.59L444.65 324.65L444.09 324.69L443.53 324.7L442.96 324.69L442.41 324.66L441.86 324.6L441.34 324.52L440.83 324.41L440.36 324.28L439.92 324.13L439.51 323.96L439.15 323.78L438.82 323.58L438.55 323.36L438.33 323.14L438.16 322.9L438.04 322.66L437.97 322.41L437.97 322.16L438.01 321.91L438.11 321.66L438.27 321.42L438.48 321.18L438.74 320.95L439.04 320.74L439.39 320.54L439.78 320.35L440.21 320.18L440.67 320.03L441.16 319.9L441.68 319.79L442.21 319.71L442.76 319.64L443.32 319.61L443.88 319.59L444.44 319.6L444.99 319.64L445.53 319.7L446.05 319.78L446.55 319.88L447.03 320.01L447.47 320.16L447.87 320.32L448.24 320.51L448.56 320.71L448.84 320.92L449.06 321.14Z" fill="#ffb01a" filter="url(#bl2)"/>
</g>
<polygon points="337.1,282 502.5,260.4 558.3,333.6 374.6,359.8" fill="none" stroke="#2a2a2a" stroke-width="0.7" />
<line x1="337.1" y1="282" x2="338" y2="296.9" stroke="#2a2a2a" stroke-width="0.7" />
<line x1="502.5" y1="260.4" x2="502.5" y2="275.6" stroke="#2a2a2a" stroke-width="0.7" />
<line x1="558.3" y1="333.6" x2="558.3" y2="349.5" stroke="#777" stroke-width="0.7" />
<line x1="374.6" y1="359.8" x2="375.4" y2="376.2" stroke="#2a2a2a" stroke-width="0.7" />
<line x1="358.7" y1="338.7" x2="356.2" y2="339.6" stroke="#2a2a2a" stroke-width="0.8" />
<line x1="470.4" y1="361" x2="470.2" y2="358.6" stroke="#2a2a2a" stroke-width="0.8" />
<line x1="332.4" y1="400" x2="333.3" y2="381.5" stroke="#5b88d6" stroke-width="1" />
<polygon points="333.4,376.2 331,382.2 335.8,382.2" fill="#5b88d6" />
<line x1="332.4" y1="400" x2="351.5" y2="395.3" stroke="#55b04a" stroke-width="1" />
<polygon points="356.8,394 351.57,397.86 350.38,393.01" fill="#55b04a" />
<line x1="332.4" y1="400" x2="352" y2="406.4" stroke="#d63c6e" stroke-width="1" />
<polygon points="357.4,408.2 350.92,408.71 352.48,403.95" fill="#d63c6e" />
<text x="329.3" y="376.1" font-size="14" textLength="10.5" lengthAdjust="spacingAndGlyphs" font-style="italic">Z</text>
<text x="357.2" y="394.3" font-size="13" textLength="8.8" lengthAdjust="spacingAndGlyphs" font-style="italic">Y</text>
<text x="358" y="412.1" font-size="13" textLength="10.5" lengthAdjust="spacingAndGlyphs" font-style="italic">X</text>
<text x="327.3" y="303.4" font-size="13.5">0</text>
<text x="337.4" y="346.3" font-size="13.5" textLength="18" lengthAdjust="spacingAndGlyphs">0.5</text>
<text x="361.6" y="381.2" font-size="13">1</text>
<text x="374.4" y="391.4" font-size="13.5">0</text>
<text x="466.5" y="378.6" font-size="13.5" textLength="18" lengthAdjust="spacingAndGlyphs">0.5</text>
<text x="554.5" y="362.8" font-size="13">1</text>
<text x="454.5" y="396.3" font-size="14" textLength="24.5" lengthAdjust="spacingAndGlyphs">×10</text>
<text x="479" y="390.3" font-size="9" textLength="4.5" lengthAdjust="spacingAndGlyphs">3</text>
<text x="487" y="396.3" font-size="14" textLength="28.6" lengthAdjust="spacingAndGlyphs">(μm)</text>
<text x="503" y="259" font-size="13.5" textLength="19.5" lengthAdjust="spacingAndGlyphs">100</text>
<text x="520.6" y="271" font-size="13" textLength="25.3" lengthAdjust="spacingAndGlyphs">(μm)</text>
<text x="509.5" y="281.2" font-size="13.5">0</text>
<rect x="565.6" y="251.8" width="11" height="134.8" fill="url(#cbar)" stroke="#555" stroke-width="0.6" />
<line x1="565.6" y1="272.7" x2="567.6" y2="272.7" stroke="#333" stroke-width="0.7" />
<line x1="574.6" y1="272.7" x2="576.6" y2="272.7" stroke="#333" stroke-width="0.7" />
<line x1="565.6" y1="322.3" x2="567.6" y2="322.3" stroke="#333" stroke-width="0.7" />
<line x1="574.6" y1="322.3" x2="576.6" y2="322.3" stroke="#333" stroke-width="0.7" />
<line x1="565.6" y1="365.7" x2="567.6" y2="365.7" stroke="#333" stroke-width="0.7" />
<line x1="574.6" y1="365.7" x2="576.6" y2="365.7" stroke="#333" stroke-width="0.7" />
<text x="560.8" y="250" font-size="14" textLength="19.6" lengthAdjust="spacingAndGlyphs">(V)</text>
<text x="580.3" y="259.6" font-size="14" textLength="14" lengthAdjust="spacingAndGlyphs">60</text>
<text x="580.3" y="276.7" font-size="14" textLength="14" lengthAdjust="spacingAndGlyphs">50</text>
<text x="580.3" y="327.3" font-size="14" textLength="14" lengthAdjust="spacingAndGlyphs">30</text>
<text x="580.3" y="370.5" font-size="14" textLength="14" lengthAdjust="spacingAndGlyphs">10</text>
<text x="579.6" y="392" font-size="14">0</text>
<rect x="40.4" y="500" width="214.1" height="23.4" fill="url(#bandE1)" />
<line x1="40.4" y1="523" x2="254.5" y2="523" stroke="#6a3a18" stroke-width="1" />
<rect x="40.4" y="570.8" width="214.1" height="23.9" fill="url(#bandE2)" />
<g clip-path="url(#clipE2)">
<ellipse cx="40" cy="594.7" rx="54" ry="19" fill="url(#glowE)"/>
<ellipse cx="147.45" cy="594.7" rx="39.75" ry="19" fill="url(#glowE)"/>
<ellipse cx="254.5" cy="594.7" rx="54.3" ry="19" fill="url(#glowE)"/>
<ellipse cx="40" cy="594.7" rx="45" ry="7.5" fill="url(#domeE)"/>
<ellipse cx="147.45" cy="594.7" rx="30.75" ry="7.5" fill="url(#domeE)"/>
<ellipse cx="254.5" cy="594.7" rx="45.3" ry="7.5" fill="url(#domeE)"/>
</g>
<line x1="40.4" y1="594.2" x2="78" y2="594.2" stroke="#7a2a10" stroke-width="1" />
<line x1="123.7" y1="594.2" x2="171.2" y2="594.2" stroke="#7a2a10" stroke-width="1" />
<line x1="216.2" y1="594.2" x2="254.5" y2="594.2" stroke="#7a2a10" stroke-width="1" />
<line x1="78" y1="594.2" x2="123.7" y2="594.2" stroke="#2a9aa0" stroke-width="0.8" />
<line x1="171.2" y1="594.2" x2="216.2" y2="594.2" stroke="#2a9aa0" stroke-width="0.8" />
<line x1="40.4" y1="462.2" x2="254.5" y2="462.2" stroke="#8a8a8a" stroke-width="1" />
<line x1="254.5" y1="462.2" x2="254.5" y2="629.9" stroke="#8a8a8a" stroke-width="1" />
<line x1="40.4" y1="462.2" x2="40.4" y2="630.4" stroke="#6a6a6a" stroke-width="1.1" />
<line x1="39.9" y1="629.9" x2="255" y2="629.9" stroke="#6a6a6a" stroke-width="1.3" />
<line x1="83.22" y1="629.9" x2="83.22" y2="627.4" stroke="#6a6a6a" stroke-width="1" />
<line x1="126.04" y1="629.9" x2="126.04" y2="627.4" stroke="#6a6a6a" stroke-width="1" />
<line x1="168.86" y1="629.9" x2="168.86" y2="627.4" stroke="#6a6a6a" stroke-width="1" />
<line x1="211.68" y1="629.9" x2="211.68" y2="627.4" stroke="#6a6a6a" stroke-width="1" />
<line x1="40.4" y1="510.5" x2="42.4" y2="510.5" stroke="#6a8a9a" stroke-width="0.8" />
<line x1="40.4" y1="581" x2="42.4" y2="581" stroke="#6a8a9a" stroke-width="0.8" />
<line x1="48.3" y1="564.1" x2="48.3" y2="545.5" stroke="#000" stroke-width="1" />
<polygon points="48.3,540.5 45.7,546.2 50.9,546.2" fill="#000" />
<line x1="45" y1="561.1" x2="64.5" y2="561.1" stroke="#000" stroke-width="1" />
<polygon points="69.1,561.1 63.4,558.5 63.4,563.7" fill="#000" />
<text x="44.6" y="538.5" font-size="14" textLength="9" lengthAdjust="spacingAndGlyphs" font-style="italic">Y</text>
<text x="69.8" y="565.6" font-size="14" textLength="9.5" lengthAdjust="spacingAndGlyphs" font-style="italic">X</text>
<text x="40.6" y="458.3" font-size="14" textLength="29.2" lengthAdjust="spacingAndGlyphs">(μm)</text>
<text x="37.9" y="505.1" font-size="14" text-anchor="end" textLength="21" lengthAdjust="spacingAndGlyphs">100</text>
<text x="35" y="528.1" font-size="14" text-anchor="end">0</text>
<text x="37.9" y="576" font-size="14" text-anchor="end" textLength="21" lengthAdjust="spacingAndGlyphs">100</text>
<text x="35" y="599.2" font-size="14" text-anchor="end">0</text>
<text x="67.3" y="492.4" font-size="14" textLength="145.6" lengthAdjust="spacingAndGlyphs">Completely filled electrode</text>
<text x="85.1" y="566.1" font-size="14" textLength="128.5" lengthAdjust="spacingAndGlyphs">Partially filled electrode</text>
<text x="37.6" y="645.3" font-size="14">0</text>
<text x="71" y="645.3" font-size="14" textLength="22.2" lengthAdjust="spacingAndGlyphs">200</text>
<text x="114.2" y="645.3" font-size="14" textLength="22.2" lengthAdjust="spacingAndGlyphs">400</text>
<text x="158.7" y="645.3" font-size="14" textLength="22.4" lengthAdjust="spacingAndGlyphs">600</text>
<text x="204" y="645.3" font-size="14" textLength="21.7" lengthAdjust="spacingAndGlyphs">800</text>
<text x="238.5" y="645.3" font-size="14" textLength="35" lengthAdjust="spacingAndGlyphs">1,000</text>
<rect x="261.2" y="477" width="11" height="134.6" fill="url(#cbar)" stroke="#555" stroke-width="0.6" />
<line x1="261.2" y1="498.3" x2="263.2" y2="498.3" stroke="#333" stroke-width="0.7" />
<line x1="270.2" y1="498.3" x2="272.2" y2="498.3" stroke="#333" stroke-width="0.7" />
<line x1="261.2" y1="547.5" x2="263.2" y2="547.5" stroke="#333" stroke-width="0.7" />
<line x1="270.2" y1="547.5" x2="272.2" y2="547.5" stroke="#333" stroke-width="0.7" />
<line x1="261.2" y1="591" x2="263.2" y2="591" stroke="#333" stroke-width="0.7" />
<line x1="270.2" y1="591" x2="272.2" y2="591" stroke="#333" stroke-width="0.7" />
<text x="257.2" y="475" font-size="14" textLength="19.6" lengthAdjust="spacingAndGlyphs">(V)</text>
<text x="275.5" y="483.2" font-size="14" textLength="14" lengthAdjust="spacingAndGlyphs">60</text>
<text x="275.5" y="504.2" font-size="14" textLength="14" lengthAdjust="spacingAndGlyphs">50</text>
<text x="275.5" y="552" font-size="14" textLength="14" lengthAdjust="spacingAndGlyphs">30</text>
<text x="275.5" y="595.6" font-size="14" textLength="14" lengthAdjust="spacingAndGlyphs">10</text>
<text x="274.4" y="613.2" font-size="14">0</text>
<text x="258.2" y="628.6" font-size="14" textLength="28.6" lengthAdjust="spacingAndGlyphs">(μm)</text>
<rect x="346.3" y="459" width="210.3" height="169.4" fill="url(#bgF)" />
<rect x="346.3" y="459" width="47.8" height="169.4" fill="#fcc6c9" opacity="0.55"/>
<g clip-path="url(#clipF)">
<path d="M346.3 604.87L347.3 604.87L348.3 604.87L349.3 604.87L350.3 604.87L351.3 604.87L352.3 604.87L353.3 604.87L354.3 604.88L355.3 604.88L356.3 604.88L357.3 604.88L358.3 604.88L359.3 604.89L360.3 604.89L361.3 604.89L362.3 604.90L363.3 604.90L364.3 604.90L365.3 604.91L366.3 604.91L367.3 604.92L368.3 604.92L369.3 604.93L370.3 604.94L371.3 604.94L372.3 604.95L373.3 604.96L374.3 604.97L375.3 604.98L376.3 604.99L377.3 605.01L378.3 605.02L379.3 605.04L380.3 605.05L381.3 605.07L382.3 605.09L383.3 605.12L384.3 605.14L385.3 605.17L386.3 605.20L387.3 605.23L388.3 605.27L389.3 605.31L390.3 605.35L391.3 605.40L392.3 605.45L393.3 605.50L394.3 605.56L395.3 605.63L396.3 605.70L397.3 605.78L398.3 605.87L399.3 605.96L400.3 606.06L401.3 606.18L402.3 606.30L403.3 606.43L404.3 606.57L405.3 606.72L406.3 606.89L407.3 607.06L408.3 607.26L409.3 607.46L410.3 607.68L411.3 607.92L412.3 608.18L413.3 608.45L414.3 608.74L415.3 609.04L416.3 609.37L417.3 609.71L418.3 610.07L419.3 610.45L420.3 610.84L421.3 611.26L422.3 611.68L423.3 612.12L424.3 612.58L425.3 613.04L426.3 613.52L427.3 614.00L428.3 614.48L429.3 614.97L430.3 615.46L431.3 615.94L432.3 616.42L433.3 616.89L434.3 617.35L435.3 617.80L436.3 618.24L437.3 618.65L438.3 619.05L439.3 619.43L440.3 619.80L441.3 620.14L442.3 620.45L443.3 620.75L444.3 621.03L445.3 621.28L446.3 621.52L447.3 621.74L448.3 621.93L449.3 622.11L450.3 622.28L451.3 622.43L452.3 622.56L453.3 622.68L454.3 622.79L455.3 622.88L456.3 622.97L457.3 623.05L458.3 623.12L459.3 623.18L460.3 623.23L461.3 623.28L462.3 623.32L463.3 623.36L464.3 623.39L465.3 623.42L466.3 623.44L467.3 623.46L468.3 623.48L469.3 623.50L470.3 623.52L471.3 623.53L472.3 623.54L473.3 623.55L474.3 623.56L475.3 623.57L476.3 623.57L477.3 623.58L478.3 623.58L479.3 623.59L480.3 623.59L481.3 623.60L482.3 623.60L483.3 623.60L484.3 623.60L485.3 623.61L486.3 623.61L487.3 623.61L488.3 623.61L489.3 623.61L490.3 623.61L491.3 623.61L492.3 623.61L493.3 623.61L494.3 623.61L495.3 623.61L496.3 623.62L497.3 623.62L498.3 623.62L499.3 623.62L500.3 623.62L501.3 623.62L502.3 623.62L503.3 623.62L504.3 623.62L505.3 623.62L506.3 623.62L507.3 623.62L508.3 623.62L509.3 623.62L510.3 623.62L511.3 623.62L512.3 623.62L513.3 623.62L514.3 623.62L515.3 623.62L516.3 623.62L517.3 623.62L518.3 623.62L519.3 623.62L520.3 623.62L521.3 623.62L522.3 623.62L523.3 623.62L524.3 623.62L525.3 623.62L526.3 623.62L527.3 623.62L528.3 623.62L529.3 623.62L530.3 623.62L531.3 623.62L532.3 623.62L533.3 623.62L534.3 623.62L535.3 623.62L536.3 623.62L537.3 623.62L538.3 623.62L539.3 623.62L540.3 623.62L541.3 623.62L542.3 623.62L543.3 623.62L544.3 623.62L545.3 623.62L546.3 623.62L547.3 623.62L548.3 623.62L549.3 623.62L550.3 623.62L551.3 623.62L552.3 623.62L553.3 623.62L554.3 623.62L555.3 623.62L556.3 623.62" fill="none" stroke="#9a5cf0" stroke-width="2.2" stroke-dasharray="9.5 9.8"/>
<path d="M346.3 584.84L347.3 584.84L348.3 584.85L349.3 584.85L350.3 584.85L351.3 584.86L352.3 584.86L353.3 584.87L354.3 584.87L355.3 584.88L356.3 584.88L357.3 584.89L358.3 584.90L359.3 584.90L360.3 584.91L361.3 584.92L362.3 584.93L363.3 584.94L364.3 584.95L365.3 584.96L366.3 584.97L367.3 584.99L368.3 585.00L369.3 585.02L370.3 585.03L371.3 585.05L372.3 585.07L373.3 585.09L374.3 585.11L375.3 585.13L376.3 585.16L377.3 585.19L378.3 585.21L379.3 585.25L380.3 585.28L381.3 585.32L382.3 585.36L383.3 585.40L384.3 585.44L385.3 585.49L386.3 585.54L387.3 585.60L388.3 585.66L389.3 585.72L390.3 585.79L391.3 585.86L392.3 585.94L393.3 586.03L394.3 586.12L395.3 586.22L396.3 586.32L397.3 586.43L398.3 586.55L399.3 586.68L400.3 586.82L401.3 586.97L402.3 587.13L403.3 587.29L404.3 587.47L405.3 587.66L406.3 587.87L407.3 588.08L408.3 588.32L409.3 588.56L410.3 588.82L411.3 589.10L412.3 589.39L413.3 589.70L414.3 590.03L415.3 590.38L416.3 590.75L417.3 591.14L418.3 591.55L419.3 591.98L420.3 592.43L421.3 592.90L422.3 593.39L423.3 593.90L424.3 594.44L425.3 595.00L426.3 595.57L427.3 596.17L428.3 596.78L429.3 597.42L430.3 598.07L431.3 598.73L432.3 599.41L433.3 600.10L434.3 600.80L435.3 601.50L436.3 602.21L437.3 602.92L438.3 603.63L439.3 604.34L440.3 605.04L441.3 605.73L442.3 606.41L443.3 607.08L444.3 607.73L445.3 608.36L446.3 608.97L447.3 609.56L448.3 610.12L449.3 610.66L450.3 611.16L451.3 611.65L452.3 612.10L453.3 612.52L454.3 612.92L455.3 613.29L456.3 613.63L457.3 613.95L458.3 614.24L459.3 614.50L460.3 614.74L461.3 614.96L462.3 615.16L463.3 615.34L464.3 615.50L465.3 615.64L466.3 615.77L467.3 615.88L468.3 615.99L469.3 616.07L470.3 616.15L471.3 616.22L472.3 616.29L473.3 616.34L474.3 616.39L475.3 616.43L476.3 616.46L477.3 616.50L478.3 616.52L479.3 616.55L480.3 616.57L481.3 616.59L482.3 616.60L483.3 616.61L484.3 616.63L485.3 616.63L486.3 616.64L487.3 616.65L488.3 616.66L489.3 616.66L490.3 616.67L491.3 616.67L492.3 616.67L493.3 616.68L494.3 616.68L495.3 616.68L496.3 616.68L497.3 616.68L498.3 616.69L499.3 616.69L500.3 616.69L501.3 616.69L502.3 616.69L503.3 616.69L504.3 616.69L505.3 616.69L506.3 616.69L507.3 616.69L508.3 616.69L509.3 616.69L510.3 616.69L511.3 616.69L512.3 616.69L513.3 616.69L514.3 616.69L515.3 616.69L516.3 616.69L517.3 616.69L518.3 616.69L519.3 616.69L520.3 616.69L521.3 616.69L522.3 616.69L523.3 616.69L524.3 616.69L525.3 616.69L526.3 616.69L527.3 616.69L528.3 616.69L529.3 616.69L530.3 616.69L531.3 616.69L532.3 616.69L533.3 616.69L534.3 616.69L535.3 616.69L536.3 616.69L537.3 616.69L538.3 616.69L539.3 616.69L540.3 616.69L541.3 616.69L542.3 616.69L543.3 616.69L544.3 616.69L545.3 616.69L546.3 616.69L547.3 616.69L548.3 616.69L549.3 616.69L550.3 616.69L551.3 616.69L552.3 616.69L553.3 616.69L554.3 616.69L555.3 616.69L556.3 616.69" fill="none" stroke="#ee2a2e" stroke-width="2.2" stroke-dasharray="9.5 9.8"/>
<path d="M346.3 584.90L347.3 584.90L348.3 584.90L349.3 584.90L350.3 584.90L351.3 584.90L352.3 584.91L353.3 584.91L354.3 584.91L355.3 584.91L356.3 584.92L357.3 584.92L358.3 584.92L359.3 584.93L360.3 584.93L361.3 584.94L362.3 584.94L363.3 584.95L364.3 584.96L365.3 584.96L366.3 584.97L367.3 584.98L368.3 584.99L369.3 585.00L370.3 585.01L371.3 585.03L372.3 585.04L373.3 585.06L374.3 585.08L375.3 585.09L376.3 585.12L377.3 585.14L378.3 585.16L379.3 585.19L380.3 585.22L381.3 585.25L382.3 585.29L383.3 585.33L384.3 585.38L385.3 585.42L386.3 585.48L387.3 585.53L388.3 585.60L389.3 585.67L390.3 585.74L391.3 585.83L392.3 585.92L393.3 586.02L394.3 586.13L395.3 586.24L396.3 586.37L397.3 586.51L398.3 586.67L399.3 586.84L400.3 587.02L401.3 587.21L402.3 587.43L403.3 587.66L404.3 587.91L405.3 588.19L406.3 588.48L407.3 588.80L408.3 589.14L409.3 589.50L410.3 589.89L411.3 590.31L412.3 590.76L413.3 591.23L414.3 591.74L415.3 592.27L416.3 592.83L417.3 593.43L418.3 594.05L419.3 594.69L420.3 595.37L421.3 596.07L422.3 596.79L423.3 597.53L424.3 598.29L425.3 599.06L426.3 599.85L427.3 600.64L428.3 601.43L429.3 602.23L430.3 603.02L431.3 603.80L432.3 604.57L433.3 605.32L434.3 606.06L435.3 606.78L436.3 607.47L437.3 608.13L438.3 608.77L439.3 609.38L440.3 609.95L441.3 610.50L442.3 611.01L443.3 611.49L444.3 611.94L445.3 612.37L446.3 612.76L447.3 613.12L448.3 613.45L449.3 613.76L450.3 614.05L451.3 614.31L452.3 614.54L453.3 614.76L454.3 614.96L455.3 615.14L456.3 615.30L457.3 615.45L458.3 615.59L459.3 615.71L460.3 615.82L461.3 615.92L462.3 616.01L463.3 616.09L464.3 616.16L465.3 616.23L466.3 616.29L467.3 616.34L468.3 616.39L469.3 616.43L470.3 616.47L471.3 616.50L472.3 616.54L473.3 616.56L474.3 616.59L475.3 616.61L476.3 616.63L477.3 616.65L478.3 616.66L479.3 616.68L480.3 616.69L481.3 616.70L482.3 616.71L483.3 616.72L484.3 616.73L485.3 616.74L486.3 616.74L487.3 616.75L488.3 616.76L489.3 616.76L490.3 616.76L491.3 616.77L492.3 616.77L493.3 616.77L494.3 616.78L495.3 616.78L496.3 616.78L497.3 616.78L498.3 616.78L499.3 616.79L500.3 616.79L501.3 616.79L502.3 616.79L503.3 616.79L504.3 616.79L505.3 616.79L506.3 616.79L507.3 616.79L508.3 616.79L509.3 616.79L510.3 616.80L511.3 616.80L512.3 616.80L513.3 616.80L514.3 616.80L515.3 616.80L516.3 616.80L517.3 616.80L518.3 616.80L519.3 616.80L520.3 616.80L521.3 616.80L522.3 616.80L523.3 616.80L524.3 616.80L525.3 616.80L526.3 616.80L527.3 616.80L528.3 616.80L529.3 616.80L530.3 616.80L531.3 616.80L532.3 616.80L533.3 616.80L534.3 616.80L535.3 616.80L536.3 616.80L537.3 616.80L538.3 616.80L539.3 616.80L540.3 616.80L541.3 616.80L542.3 616.80L543.3 616.80L544.3 616.80L545.3 616.80L546.3 616.80L547.3 616.80L548.3 616.80L549.3 616.80L550.3 616.80L551.3 616.80L552.3 616.80L553.3 616.80L554.3 616.80L555.3 616.80L556.3 616.80" fill="none" stroke="#1de87c" stroke-width="2.2" stroke-dasharray="9.5 9.8" stroke-dashoffset="0"/>
<path d="M346.3 510.58L347.3 510.58L348.3 510.58L349.3 510.58L350.3 510.58L351.3 510.58L352.3 510.58L353.3 510.58L354.3 510.58L355.3 510.58L356.3 510.58L357.3 510.58L358.3 510.58L359.3 510.59L360.3 510.59L361.3 510.59L362.3 510.59L363.3 510.59L364.3 510.59L365.3 510.60L366.3 510.60L367.3 510.60L368.3 510.61L369.3 510.61L370.3 510.62L371.3 510.62L372.3 510.63L373.3 510.64L374.3 510.64L375.3 510.65L376.3 510.66L377.3 510.67L378.3 510.69L379.3 510.70L380.3 510.72L381.3 510.74L382.3 510.76L383.3 510.79L384.3 510.82L385.3 510.85L386.3 510.89L387.3 510.93L388.3 510.98L389.3 511.03L390.3 511.10L391.3 511.17L392.3 511.25L393.3 511.34L394.3 511.44L395.3 511.56L396.3 511.69L397.3 511.84L398.3 512.01L399.3 512.20L400.3 512.41L401.3 512.65L402.3 512.93L403.3 513.23L404.3 513.58L405.3 513.96L406.3 514.40L407.3 514.88L408.3 515.43L409.3 516.03L410.3 516.70L411.3 517.44L412.3 518.26L413.3 519.16L414.3 520.15L415.3 521.23L416.3 522.41L417.3 523.69L418.3 525.06L419.3 526.54L420.3 528.12L421.3 529.79L422.3 531.57L423.3 533.43L424.3 535.37L425.3 537.39L426.3 539.48L427.3 541.62L428.3 543.80L429.3 546.03L430.3 548.27L431.3 550.53L432.3 552.79L433.3 555.04L434.3 557.27L435.3 559.48L436.3 561.64L437.3 563.77L438.3 565.85L439.3 567.88L440.3 569.86L441.3 571.77L442.3 573.62L443.3 575.41L444.3 577.14L445.3 578.80L446.3 580.40L447.3 581.93L448.3 583.40L449.3 584.81L450.3 586.16L451.3 587.46L452.3 588.69L453.3 589.87L454.3 591.00L455.3 592.07L456.3 593.10L457.3 594.08L458.3 595.01L459.3 595.90L460.3 596.74L461.3 597.55L462.3 598.32L463.3 599.05L464.3 599.75L465.3 600.41L466.3 601.04L467.3 601.64L468.3 602.21L469.3 602.75L470.3 603.27L471.3 603.76L472.3 604.23L473.3 604.67L474.3 605.10L475.3 605.50L476.3 605.88L477.3 606.25L478.3 606.59L479.3 606.92L480.3 607.24L481.3 607.53L482.3 607.82L483.3 608.09L484.3 608.34L485.3 608.59L486.3 608.82L487.3 609.04L488.3 609.25L489.3 609.45L490.3 609.64L491.3 609.82L492.3 609.99L493.3 610.15L494.3 610.31L495.3 610.45L496.3 610.60L497.3 610.73L498.3 610.86L499.3 610.98L500.3 611.09L501.3 611.20L502.3 611.30L503.3 611.40L504.3 611.49L505.3 611.58L506.3 611.67L507.3 611.75L508.3 611.83L509.3 611.90L510.3 611.97L511.3 612.03L512.3 612.10L513.3 612.16L514.3 612.21L515.3 612.27L516.3 612.32L517.3 612.37L518.3 612.41L519.3 612.46L520.3 612.50L521.3 612.54L522.3 612.58L523.3 612.61L524.3 612.65L525.3 612.68L526.3 612.71L527.3 612.74L528.3 612.77L529.3 612.79L530.3 612.82L531.3 612.84L532.3 612.87L533.3 612.89L534.3 612.91L535.3 612.93L536.3 612.95L537.3 612.96L538.3 612.98L539.3 613.00L540.3 613.01L541.3 613.03L542.3 613.04L543.3 613.05L544.3 613.07L545.3 613.08L546.3 613.09L547.3 613.10L548.3 613.11L549.3 613.12L550.3 613.13L551.3 613.14L552.3 613.15L553.3 613.16L554.3 613.16L555.3 613.17L556.3 613.18" fill="none" stroke="#9a5cf0" stroke-width="2" />
<path d="M346.3 463.99L347.3 464.00L348.3 464.00L349.3 464.01L350.3 464.02L351.3 464.03L352.3 464.04L353.3 464.05L354.3 464.06L355.3 464.07L356.3 464.08L357.3 464.10L358.3 464.11L359.3 464.13L360.3 464.15L361.3 464.17L362.3 464.19L363.3 464.21L364.3 464.23L365.3 464.26L366.3 464.28L367.3 464.31L368.3 464.34L369.3 464.38L370.3 464.42L371.3 464.46L372.3 464.50L373.3 464.54L374.3 464.59L375.3 464.65L376.3 464.70L377.3 464.77L378.3 464.83L379.3 464.90L380.3 464.98L381.3 465.07L382.3 465.16L383.3 465.25L384.3 465.36L385.3 465.47L386.3 465.59L387.3 465.72L388.3 465.86L389.3 466.01L390.3 466.17L391.3 466.34L392.3 466.53L393.3 466.73L394.3 466.94L395.3 467.17L396.3 467.42L397.3 467.69L398.3 467.98L399.3 468.29L400.3 468.62L401.3 468.97L402.3 469.35L403.3 469.76L404.3 470.20L405.3 470.67L406.3 471.17L407.3 471.71L408.3 472.28L409.3 472.90L410.3 473.55L411.3 474.25L412.3 475.00L413.3 475.80L414.3 476.65L415.3 477.55L416.3 478.52L417.3 479.54L418.3 480.62L419.3 481.77L420.3 482.99L421.3 484.28L422.3 485.64L423.3 487.08L424.3 488.59L425.3 490.19L426.3 491.86L427.3 493.61L428.3 495.45L429.3 497.36L430.3 499.36L431.3 501.44L432.3 503.59L433.3 505.82L434.3 508.13L435.3 510.50L436.3 512.95L437.3 515.45L438.3 518.01L439.3 520.61L440.3 523.26L441.3 525.95L442.3 528.66L443.3 531.39L444.3 534.13L445.3 536.88L446.3 539.61L447.3 542.33L448.3 545.02L449.3 547.67L450.3 550.28L451.3 552.84L452.3 555.35L453.3 557.78L454.3 560.14L455.3 562.43L456.3 564.63L457.3 566.75L458.3 568.78L459.3 570.72L460.3 572.56L461.3 574.32L462.3 575.98L463.3 577.54L464.3 579.02L465.3 580.40L466.3 581.70L467.3 582.91L468.3 584.04L469.3 585.09L470.3 586.07L471.3 586.98L472.3 587.82L473.3 588.59L474.3 589.30L475.3 589.96L476.3 590.56L477.3 591.12L478.3 591.62L479.3 592.09L480.3 592.51L481.3 592.90L482.3 593.25L483.3 593.58L484.3 593.87L485.3 594.14L486.3 594.38L487.3 594.60L488.3 594.80L489.3 594.98L490.3 595.15L491.3 595.29L492.3 595.43L493.3 595.55L494.3 595.66L495.3 595.76L496.3 595.85L497.3 595.93L498.3 596.01L499.3 596.07L500.3 596.13L501.3 596.19L502.3 596.23L503.3 596.28L504.3 596.32L505.3 596.35L506.3 596.39L507.3 596.41L508.3 596.44L509.3 596.46L510.3 596.49L511.3 596.50L512.3 596.52L513.3 596.54L514.3 596.55L515.3 596.56L516.3 596.57L517.3 596.58L518.3 596.59L519.3 596.60L520.3 596.61L521.3 596.62L522.3 596.62L523.3 596.63L524.3 596.63L525.3 596.64L526.3 596.64L527.3 596.64L528.3 596.65L529.3 596.65L530.3 596.65L531.3 596.65L532.3 596.66L533.3 596.66L534.3 596.66L535.3 596.66L536.3 596.66L537.3 596.66L538.3 596.67L539.3 596.67L540.3 596.67L541.3 596.67L542.3 596.67L543.3 596.67L544.3 596.67L545.3 596.67L546.3 596.67L547.3 596.67L548.3 596.67L549.3 596.67L550.3 596.67L551.3 596.67L552.3 596.67L553.3 596.67L554.3 596.67L555.3 596.67L556.3 596.67" fill="none" stroke="#ee2a2e" stroke-width="2" />
<path d="M346.3 464.26L347.3 464.27L348.3 464.28L349.3 464.29L350.3 464.31L351.3 464.32L352.3 464.33L353.3 464.35L354.3 464.36L355.3 464.38L356.3 464.40L357.3 464.42L358.3 464.44L359.3 464.46L360.3 464.48L361.3 464.51L362.3 464.54L363.3 464.57L364.3 464.60L365.3 464.64L366.3 464.67L367.3 464.72L368.3 464.76L369.3 464.81L370.3 464.86L371.3 464.91L372.3 464.97L373.3 465.03L374.3 465.10L375.3 465.17L376.3 465.25L377.3 465.33L378.3 465.42L379.3 465.52L380.3 465.62L381.3 465.73L382.3 465.85L383.3 465.98L384.3 466.11L385.3 466.26L386.3 466.42L387.3 466.59L388.3 466.77L389.3 466.97L390.3 467.18L391.3 467.40L392.3 467.64L393.3 467.90L394.3 468.18L395.3 468.48L396.3 468.79L397.3 469.14L398.3 469.50L399.3 469.89L400.3 470.31L401.3 470.76L402.3 471.24L403.3 471.75L404.3 472.29L405.3 472.88L406.3 473.50L407.3 474.17L408.3 474.87L409.3 475.63L410.3 476.43L411.3 477.29L412.3 478.20L413.3 479.16L414.3 480.19L415.3 481.27L416.3 482.42L417.3 483.64L418.3 484.93L419.3 486.29L420.3 487.72L421.3 489.23L422.3 490.81L423.3 492.48L424.3 494.22L425.3 496.05L426.3 497.96L427.3 499.95L428.3 502.02L429.3 504.17L430.3 506.39L431.3 508.70L432.3 511.07L433.3 513.52L434.3 516.03L435.3 518.60L436.3 521.22L437.3 523.89L438.3 526.60L439.3 529.34L440.3 532.11L441.3 534.89L442.3 537.68L443.3 540.46L444.3 543.23L445.3 545.98L446.3 548.70L447.3 551.38L448.3 554.00L449.3 556.57L450.3 559.08L451.3 561.51L452.3 563.86L453.3 566.13L454.3 568.31L455.3 570.39L456.3 572.38L457.3 574.27L458.3 576.06L459.3 577.75L460.3 579.34L461.3 580.83L462.3 582.22L463.3 583.52L464.3 584.73L465.3 585.85L466.3 586.89L467.3 587.85L468.3 588.72L469.3 589.53L470.3 590.27L471.3 590.95L472.3 591.56L473.3 592.12L474.3 592.63L475.3 593.09L476.3 593.51L477.3 593.88L478.3 594.22L479.3 594.53L480.3 594.80L481.3 595.05L482.3 595.27L483.3 595.47L484.3 595.65L485.3 595.81L486.3 595.95L487.3 596.08L488.3 596.19L489.3 596.29L490.3 596.38L491.3 596.46L492.3 596.53L493.3 596.60L494.3 596.65L495.3 596.70L496.3 596.75L497.3 596.79L498.3 596.82L499.3 596.85L500.3 596.88L501.3 596.90L502.3 596.92L503.3 596.94L504.3 596.96L505.3 596.97L506.3 596.99L507.3 597.00L508.3 597.01L509.3 597.02L510.3 597.03L511.3 597.03L512.3 597.04L513.3 597.04L514.3 597.05L515.3 597.05L516.3 597.06L517.3 597.06L518.3 597.06L519.3 597.07L520.3 597.07L521.3 597.07L522.3 597.07L523.3 597.07L524.3 597.08L525.3 597.08L526.3 597.08L527.3 597.08L528.3 597.08L529.3 597.08L530.3 597.08L531.3 597.08L532.3 597.08L533.3 597.08L534.3 597.08L535.3 597.08L536.3 597.08L537.3 597.08L538.3 597.08L539.3 597.08L540.3 597.08L541.3 597.08L542.3 597.08L543.3 597.09L544.3 597.09L545.3 597.09L546.3 597.09L547.3 597.09L548.3 597.09L549.3 597.09L550.3 597.09L551.3 597.09L552.3 597.09L553.3 597.09L554.3 597.09L555.3 597.09L556.3 597.09" fill="none" stroke="#1de87c" stroke-width="2" />
</g>
<line x1="457" y1="467.5" x2="486.4" y2="467.5" stroke="#ee2a2e" stroke-width="2" />
<text x="489.5" y="471.9" font-size="12.6">EM voltage</text>
<line x1="457" y1="482.9" x2="486.4" y2="482.9" stroke="#1de87c" stroke-width="2" />
<text x="489.5" y="487.3" font-size="12.6">EDS voltage</text>
<line x1="457" y1="498.3" x2="486.4" y2="498.3" stroke="#9a5cf0" stroke-width="2" />
<text x="489.5" y="502.7" font-size="12.6">PF voltage</text>
<line x1="457" y1="513.8" x2="466.9" y2="513.8" stroke="#ee2a2e" stroke-width="2" />
<line x1="476.4" y1="513.8" x2="486.4" y2="513.8" stroke="#ee2a2e" stroke-width="2" />
<text x="489.5" y="518.2" font-size="12.6">EM force</text>
<line x1="457" y1="529.4" x2="466.9" y2="529.4" stroke="#1de87c" stroke-width="2" />
<line x1="476.4" y1="529.4" x2="486.4" y2="529.4" stroke="#1de87c" stroke-width="2" />
<text x="489.5" y="533.8" font-size="12.6">EDS force</text>
<line x1="457" y1="545" x2="466.9" y2="545" stroke="#9a5cf0" stroke-width="2" />
<line x1="476.4" y1="545" x2="486.4" y2="545" stroke="#9a5cf0" stroke-width="2" />
<text x="489.5" y="549.4" font-size="12.6">PF force</text>
<rect x="346.3" y="459" width="210.3" height="169.4" fill="none" stroke="#3a3a3a" stroke-width="1" />
<line x1="346.3" y1="628.4" x2="349.8" y2="628.4" stroke="#3a3a3a" stroke-width="1" />
<text x="342.3" y="632.6" font-size="12.3" text-anchor="end" textLength="11.8" lengthAdjust="spacingAndGlyphs">30</text>
<line x1="346.3" y1="605.06" x2="349.8" y2="605.06" stroke="#3a3a3a" stroke-width="1" />
<text x="342.3" y="609.26" font-size="12.3" text-anchor="end" textLength="11.8" lengthAdjust="spacingAndGlyphs">40</text>
<line x1="346.3" y1="581.71" x2="349.8" y2="581.71" stroke="#3a3a3a" stroke-width="1" />
<text x="342.3" y="585.91" font-size="12.3" text-anchor="end" textLength="11.8" lengthAdjust="spacingAndGlyphs">50</text>
<line x1="346.3" y1="558.37" x2="349.8" y2="558.37" stroke="#3a3a3a" stroke-width="1" />
<text x="342.3" y="562.57" font-size="12.3" text-anchor="end" textLength="11.8" lengthAdjust="spacingAndGlyphs">60</text>
<line x1="346.3" y1="535.03" x2="349.8" y2="535.03" stroke="#3a3a3a" stroke-width="1" />
<text x="342.3" y="539.23" font-size="12.3" text-anchor="end" textLength="11.8" lengthAdjust="spacingAndGlyphs">70</text>
<line x1="346.3" y1="511.69" x2="349.8" y2="511.69" stroke="#3a3a3a" stroke-width="1" />
<text x="342.3" y="515.88" font-size="12.3" text-anchor="end" textLength="11.8" lengthAdjust="spacingAndGlyphs">80</text>
<line x1="346.3" y1="488.34" x2="349.8" y2="488.34" stroke="#3a3a3a" stroke-width="1" />
<text x="342.3" y="492.54" font-size="12.3" text-anchor="end" textLength="11.8" lengthAdjust="spacingAndGlyphs">90</text>
<line x1="346.3" y1="465" x2="349.8" y2="465" stroke="#3a3a3a" stroke-width="1" />
<text x="342.3" y="469.2" font-size="12.3" text-anchor="end" textLength="19.5" lengthAdjust="spacingAndGlyphs">100</text>
<line x1="346.3" y1="616.73" x2="348.1" y2="616.73" stroke="#3a3a3a" stroke-width="1" />
<line x1="346.3" y1="593.39" x2="348.1" y2="593.39" stroke="#3a3a3a" stroke-width="1" />
<line x1="346.3" y1="570.04" x2="348.1" y2="570.04" stroke="#3a3a3a" stroke-width="1" />
<line x1="346.3" y1="546.7" x2="348.1" y2="546.7" stroke="#3a3a3a" stroke-width="1" />
<line x1="346.3" y1="523.36" x2="348.1" y2="523.36" stroke="#3a3a3a" stroke-width="1" />
<line x1="346.3" y1="500.01" x2="348.1" y2="500.01" stroke="#3a3a3a" stroke-width="1" />
<line x1="346.3" y1="476.67" x2="348.1" y2="476.67" stroke="#3a3a3a" stroke-width="1" />
<line x1="553.6" y1="616.6" x2="556.6" y2="616.6" stroke="#3a3a3a" stroke-width="1" />
<text x="560.9" y="620.8" font-size="12.3" textLength="6.2" lengthAdjust="spacingAndGlyphs">2</text>
<line x1="553.6" y1="592.5" x2="556.6" y2="592.5" stroke="#3a3a3a" stroke-width="1" />
<text x="560.9" y="596.7" font-size="12.3" textLength="6.2" lengthAdjust="spacingAndGlyphs">4</text>
<line x1="553.6" y1="568.4" x2="556.6" y2="568.4" stroke="#3a3a3a" stroke-width="1" />
<text x="560.9" y="572.6" font-size="12.3" textLength="6.2" lengthAdjust="spacingAndGlyphs">6</text>
<line x1="553.6" y1="544.3" x2="556.6" y2="544.3" stroke="#3a3a3a" stroke-width="1" />
<text x="560.9" y="548.5" font-size="12.3" textLength="6.2" lengthAdjust="spacingAndGlyphs">8</text>
<line x1="553.6" y1="520.2" x2="556.6" y2="520.2" stroke="#3a3a3a" stroke-width="1" />
<text x="559.6" y="524.4" font-size="12.3" textLength="13.4" lengthAdjust="spacingAndGlyphs">10</text>
<line x1="553.6" y1="496.1" x2="556.6" y2="496.1" stroke="#3a3a3a" stroke-width="1" />
<text x="559.6" y="500.3" font-size="12.3" textLength="13.4" lengthAdjust="spacingAndGlyphs">12</text>
<line x1="553.6" y1="472" x2="556.6" y2="472" stroke="#3a3a3a" stroke-width="1" />
<text x="559.6" y="476.2" font-size="12.3" textLength="13.4" lengthAdjust="spacingAndGlyphs">14</text>
<line x1="554.8" y1="604.55" x2="556.6" y2="604.55" stroke="#3a3a3a" stroke-width="1" />
<line x1="554.8" y1="580.45" x2="556.6" y2="580.45" stroke="#3a3a3a" stroke-width="1" />
<line x1="554.8" y1="556.35" x2="556.6" y2="556.35" stroke="#3a3a3a" stroke-width="1" />
<line x1="554.8" y1="532.25" x2="556.6" y2="532.25" stroke="#3a3a3a" stroke-width="1" />
<line x1="554.8" y1="508.15" x2="556.6" y2="508.15" stroke="#3a3a3a" stroke-width="1" />
<line x1="554.8" y1="484.05" x2="556.6" y2="484.05" stroke="#3a3a3a" stroke-width="1" />
<line x1="362.13" y1="628.4" x2="362.13" y2="626.4" stroke="#3a3a3a" stroke-width="0.8" />
<line x1="371.38" y1="628.4" x2="371.38" y2="626.4" stroke="#3a3a3a" stroke-width="0.8" />
<line x1="377.95" y1="628.4" x2="377.95" y2="626.4" stroke="#3a3a3a" stroke-width="0.8" />
<line x1="383.05" y1="628.4" x2="383.05" y2="626.4" stroke="#3a3a3a" stroke-width="0.8" />
<line x1="387.21" y1="628.4" x2="387.21" y2="626.4" stroke="#3a3a3a" stroke-width="0.8" />
<line x1="390.73" y1="628.4" x2="390.73" y2="626.4" stroke="#3a3a3a" stroke-width="0.8" />
<line x1="393.78" y1="628.4" x2="393.78" y2="626.4" stroke="#3a3a3a" stroke-width="0.8" />
<line x1="396.47" y1="628.4" x2="396.47" y2="626.4" stroke="#3a3a3a" stroke-width="0.8" />
<line x1="414.7" y1="628.4" x2="414.7" y2="626.4" stroke="#3a3a3a" stroke-width="0.8" />
<line x1="423.96" y1="628.4" x2="423.96" y2="626.4" stroke="#3a3a3a" stroke-width="0.8" />
<line x1="430.53" y1="628.4" x2="430.53" y2="626.4" stroke="#3a3a3a" stroke-width="0.8" />
<line x1="435.62" y1="628.4" x2="435.62" y2="626.4" stroke="#3a3a3a" stroke-width="0.8" />
<line x1="439.79" y1="628.4" x2="439.79" y2="626.4" stroke="#3a3a3a" stroke-width="0.8" />
<line x1="443.31" y1="628.4" x2="443.31" y2="626.4" stroke="#3a3a3a" stroke-width="0.8" />
<line x1="446.35" y1="628.4" x2="446.35" y2="626.4" stroke="#3a3a3a" stroke-width="0.8" />
<line x1="449.04" y1="628.4" x2="449.04" y2="626.4" stroke="#3a3a3a" stroke-width="0.8" />
<line x1="467.28" y1="628.4" x2="467.28" y2="626.4" stroke="#3a3a3a" stroke-width="0.8" />
<line x1="476.53" y1="628.4" x2="476.53" y2="626.4" stroke="#3a3a3a" stroke-width="0.8" />
<line x1="483.1" y1="628.4" x2="483.1" y2="626.4" stroke="#3a3a3a" stroke-width="0.8" />
<line x1="488.2" y1="628.4" x2="488.2" y2="626.4" stroke="#3a3a3a" stroke-width="0.8" />
<line x1="492.36" y1="628.4" x2="492.36" y2="626.4" stroke="#3a3a3a" stroke-width="0.8" />
<line x1="495.88" y1="628.4" x2="495.88" y2="626.4" stroke="#3a3a3a" stroke-width="0.8" />
<line x1="498.93" y1="628.4" x2="498.93" y2="626.4" stroke="#3a3a3a" stroke-width="0.8" />
<line x1="501.62" y1="628.4" x2="501.62" y2="626.4" stroke="#3a3a3a" stroke-width="0.8" />
<line x1="519.85" y1="628.4" x2="519.85" y2="626.4" stroke="#3a3a3a" stroke-width="0.8" />
<line x1="529.11" y1="628.4" x2="529.11" y2="626.4" stroke="#3a3a3a" stroke-width="0.8" />
<line x1="535.68" y1="628.4" x2="535.68" y2="626.4" stroke="#3a3a3a" stroke-width="0.8" />
<line x1="540.77" y1="628.4" x2="540.77" y2="626.4" stroke="#3a3a3a" stroke-width="0.8" />
<line x1="544.94" y1="628.4" x2="544.94" y2="626.4" stroke="#3a3a3a" stroke-width="0.8" />
<line x1="548.46" y1="628.4" x2="548.46" y2="626.4" stroke="#3a3a3a" stroke-width="0.8" />
<line x1="551.5" y1="628.4" x2="551.5" y2="626.4" stroke="#3a3a3a" stroke-width="0.8" />
<line x1="554.19" y1="628.4" x2="554.19" y2="626.4" stroke="#3a3a3a" stroke-width="0.8" />
<line x1="346.3" y1="628.4" x2="346.3" y2="624.9" stroke="#3a3a3a" stroke-width="1" />
<line x1="398.88" y1="628.4" x2="398.88" y2="624.9" stroke="#3a3a3a" stroke-width="1" />
<line x1="451.45" y1="628.4" x2="451.45" y2="624.9" stroke="#3a3a3a" stroke-width="1" />
<line x1="504.03" y1="628.4" x2="504.03" y2="624.9" stroke="#3a3a3a" stroke-width="1" />
<line x1="556.6" y1="628.4" x2="556.6" y2="624.9" stroke="#3a3a3a" stroke-width="1" />
<text x="339" y="644.4" font-size="12.3" textLength="12" lengthAdjust="spacingAndGlyphs">10</text>
<text x="351.8" y="638.3" font-size="8" textLength="3.5" lengthAdjust="spacingAndGlyphs">1</text>
<text x="391.1" y="644.4" font-size="12.3" textLength="12" lengthAdjust="spacingAndGlyphs">10</text>
<text x="403.9" y="638.3" font-size="8" textLength="3.5" lengthAdjust="spacingAndGlyphs">2</text>
<text x="443.2" y="644.4" font-size="12.3" textLength="12" lengthAdjust="spacingAndGlyphs">10</text>
<text x="456" y="638.3" font-size="8" textLength="3.5" lengthAdjust="spacingAndGlyphs">3</text>
<text x="496.3" y="644.4" font-size="12.3" textLength="12" lengthAdjust="spacingAndGlyphs">10</text>
<text x="509.1" y="638.3" font-size="8" textLength="3.5" lengthAdjust="spacingAndGlyphs">4</text>
<text x="547.8" y="644.4" font-size="12.3" textLength="12" lengthAdjust="spacingAndGlyphs">10</text>
<text x="560.6" y="638.3" font-size="8" textLength="3.5" lengthAdjust="spacingAndGlyphs">5</text>
<text x="411.6" y="655.9" font-size="12.8" textLength="79.8" lengthAdjust="spacingAndGlyphs">Frequency (Hz)</text>
<text transform="translate(318.4 574.3) rotate(-90)" font-size="12.8" textLength="60" lengthAdjust="spacingAndGlyphs">Voltage (V)</text>
<text transform="translate(586.6 567.1) rotate(-90)" font-size="12.9" textLength="50.4" lengthAdjust="spacingAndGlyphs">Force (N)</text>
<text x="563" y="463.4" font-size="12" textLength="19" lengthAdjust="spacingAndGlyphs">×10</text>
<text x="582.5" y="459.5" font-size="8.5" textLength="9.5" lengthAdjust="spacingAndGlyphs">−5</text>
<text x="1.3" y="8.7" font-size="9.5" font-family='"Liberation Sans", sans-serif' font-weight="bold" stroke="#000" stroke-width="0.35">A</text>
<text x="298.7" y="9" font-size="9.5" font-family='"Liberation Sans", sans-serif' font-weight="bold" stroke="#000" stroke-width="0.35">B</text>
<text x="1.9" y="242.4" font-size="9.5" font-family='"Liberation Sans", sans-serif' font-weight="bold" stroke="#000" stroke-width="0.35">C</text>
<text x="297.7" y="242.4" font-size="9.5" font-family='"Liberation Sans", sans-serif' font-weight="bold" stroke="#000" stroke-width="0.35">D</text>
<text x="3" y="452" font-size="9.5" font-family='"Liberation Sans", sans-serif' font-weight="bold" stroke="#000" stroke-width="0.35">E</text>
<text x="299.4" y="452" font-size="9.5" font-family='"Liberation Sans", sans-serif' font-weight="bold" stroke="#000" stroke-width="0.35">F</text>
</svg>
</body></html>
